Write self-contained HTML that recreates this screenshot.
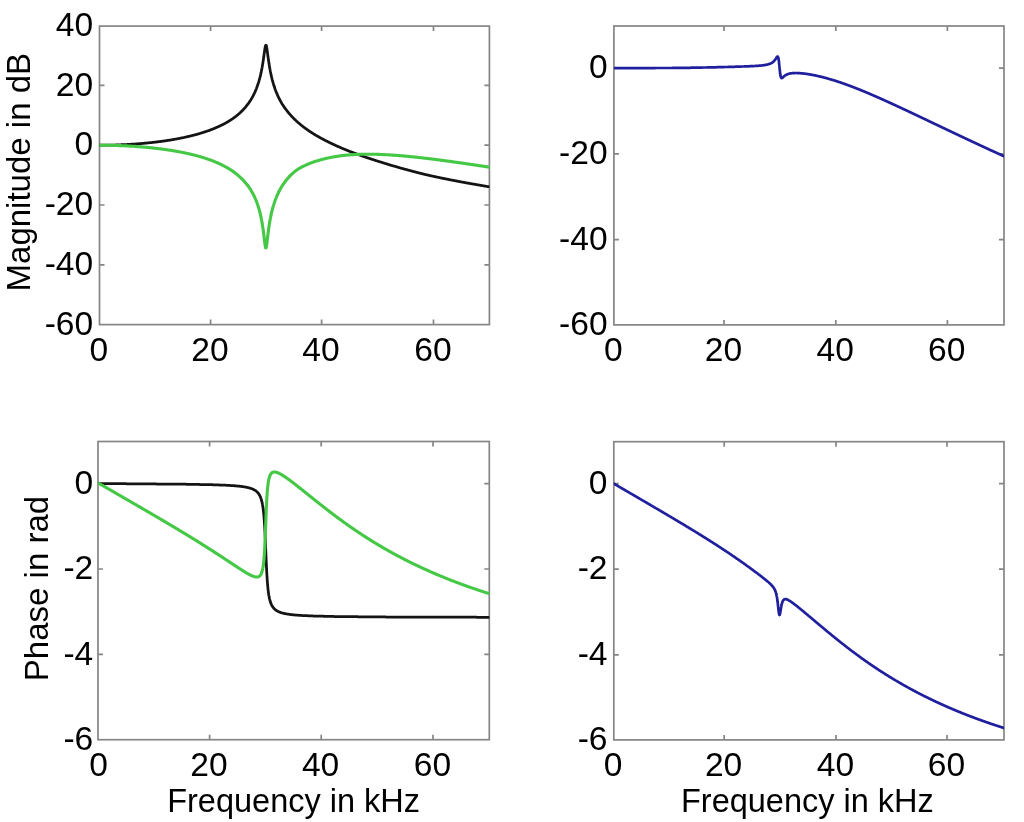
<!DOCTYPE html>
<html><head><meta charset="utf-8"><style>
html,body{margin:0;padding:0;background:#fff;}
svg{display:block;}
text{font-family:"Liberation Sans", Arial, Helvetica, sans-serif;font-size:33.00px;fill:#000;}
.t{font-size:33.6px;}
</style></head><body>
<svg width="1024" height="822" viewBox="0 0 1024 822">
<defs><clipPath id="cTL"><rect x="99.50" y="23.10" width="389.90" height="304.50"/></clipPath><clipPath id="cTR"><rect x="613.90" y="23.00" width="390.10" height="304.90"/></clipPath><clipPath id="cBL"><rect x="98.00" y="438.50" width="391.30" height="304.20"/></clipPath><clipPath id="cBR"><rect x="613.80" y="438.70" width="390.20" height="304.20"/></clipPath></defs>
<rect width="1024" height="822" fill="#fff"/>
<rect x="99.50" y="26.10" width="389.90" height="298.50" fill="none" stroke="#858585" stroke-width="1.70"/>
<path d="M210.60,324.60v-5.00M210.60,26.10v5.00M321.60,324.60v-5.00M321.60,26.10v5.00M433.50,324.60v-5.00M433.50,26.10v5.00M99.50,85.40h5.00M489.40,85.40h-5.00M99.50,145.20h5.00M489.40,145.20h-5.00M99.50,205.00h5.00M489.40,205.00h-5.00M99.50,264.80h5.00M489.40,264.80h-5.00" stroke="#858585" stroke-width="1.70" fill="none"/>
<text class="t" x="98.90" y="360.90" text-anchor="middle">0</text>
<text class="t" x="210.00" y="360.90" text-anchor="middle">20</text>
<text class="t" x="321.00" y="360.90" text-anchor="middle">40</text>
<text class="t" x="432.90" y="360.90" text-anchor="middle">60</text>
<text class="t" x="93.20" y="36.30" text-anchor="end">40</text>
<text class="t" x="93.20" y="95.60" text-anchor="end">20</text>
<text class="t" x="93.20" y="155.40" text-anchor="end">0</text>
<text class="t" x="93.20" y="215.20" text-anchor="end">-20</text>
<text class="t" x="93.20" y="275.00" text-anchor="end">-40</text>
<text class="t" x="93.20" y="334.80" text-anchor="end">-60</text>
<rect x="613.90" y="26.00" width="390.10" height="298.90" fill="none" stroke="#858585" stroke-width="1.70"/>
<path d="M724.00,324.90v-5.00M724.00,26.00v5.00M835.80,324.90v-5.00M835.80,26.00v5.00M947.40,324.90v-5.00M947.40,26.00v5.00M613.90,68.10h5.00M1004.00,68.10h-5.00M613.90,153.90h5.00M1004.00,153.90h-5.00M613.90,239.70h5.00M1004.00,239.70h-5.00" stroke="#858585" stroke-width="1.70" fill="none"/>
<text class="t" x="613.30" y="361.20" text-anchor="middle">0</text>
<text class="t" x="723.40" y="361.20" text-anchor="middle">20</text>
<text class="t" x="835.20" y="361.20" text-anchor="middle">40</text>
<text class="t" x="946.80" y="361.20" text-anchor="middle">60</text>
<text class="t" x="607.60" y="78.30" text-anchor="end">0</text>
<text class="t" x="607.60" y="164.10" text-anchor="end">-20</text>
<text class="t" x="607.60" y="249.90" text-anchor="end">-40</text>
<text class="t" x="607.60" y="335.10" text-anchor="end">-60</text>
<rect x="98.00" y="441.50" width="391.30" height="298.20" fill="none" stroke="#858585" stroke-width="1.70"/>
<path d="M209.60,739.70v-5.00M209.60,441.50v5.00M321.20,739.70v-5.00M321.20,441.50v5.00M433.00,739.70v-5.00M433.00,441.50v5.00M98.00,483.60h5.00M489.30,483.60h-5.00M98.00,569.00h5.00M489.30,569.00h-5.00M98.00,654.40h5.00M489.30,654.40h-5.00" stroke="#858585" stroke-width="1.70" fill="none"/>
<text class="t" x="98.70" y="776.00" text-anchor="middle">0</text>
<text class="t" x="209.00" y="776.00" text-anchor="middle">20</text>
<text class="t" x="320.60" y="776.00" text-anchor="middle">40</text>
<text class="t" x="432.40" y="776.00" text-anchor="middle">60</text>
<text class="t" x="93.30" y="493.80" text-anchor="end">0</text>
<text class="t" x="93.30" y="579.20" text-anchor="end">-2</text>
<text class="t" x="93.30" y="664.60" text-anchor="end">-4</text>
<text class="t" x="93.30" y="749.90" text-anchor="end">-6</text>
<rect x="613.80" y="441.70" width="390.20" height="298.20" fill="none" stroke="#858585" stroke-width="1.70"/>
<path d="M724.20,739.90v-5.00M724.20,441.70v5.00M836.00,739.90v-5.00M836.00,441.70v5.00M947.00,739.90v-5.00M947.00,441.70v5.00M613.80,483.60h5.00M1004.00,483.60h-5.00M613.80,569.20h5.00M1004.00,569.20h-5.00M613.80,654.80h5.00M1004.00,654.80h-5.00" stroke="#858585" stroke-width="1.70" fill="none"/>
<text class="t" x="613.20" y="776.20" text-anchor="middle">0</text>
<text class="t" x="723.60" y="776.20" text-anchor="middle">20</text>
<text class="t" x="835.40" y="776.20" text-anchor="middle">40</text>
<text class="t" x="946.40" y="776.20" text-anchor="middle">60</text>
<text class="t" x="607.50" y="493.80" text-anchor="end">0</text>
<text class="t" x="607.50" y="579.40" text-anchor="end">-2</text>
<text class="t" x="607.50" y="665.00" text-anchor="end">-4</text>
<text class="t" x="607.50" y="750.10" text-anchor="end">-6</text>
<path d="M99.5,145.2 99.9,145.2 100.3,145.2 100.8,145.2 101.2,145.2 101.6,145.2 102.0,145.2 102.4,145.2 102.8,145.2 103.3,145.2 103.7,145.2 104.1,145.2 104.5,145.2 104.9,145.2 105.3,145.2 105.8,145.2 106.2,145.2 106.6,145.2 107.0,145.1 107.4,145.1 107.9,145.1 108.3,145.1 108.7,145.1 109.1,145.1 109.5,145.1 109.9,145.1 110.4,145.1 110.8,145.1 111.2,145.1 111.6,145.1 112.0,145.1 112.5,145.0 112.9,145.0 113.3,145.0 113.7,145.0 114.1,145.0 114.5,145.0 114.8,145.0 115.2,145.0 115.6,145.0 116.0,144.9 116.4,144.9 116.8,144.9 117.2,144.9 117.6,144.9 118.0,144.9 118.4,144.9 118.7,144.9 119.1,144.8 119.5,144.8 119.9,144.8 120.3,144.8 120.7,144.8 121.1,144.8 121.5,144.7 121.9,144.7 122.3,144.7 122.6,144.7 123.0,144.7 123.4,144.7 123.8,144.6 124.2,144.6 124.6,144.6 125.0,144.6 125.4,144.6 125.8,144.5 126.2,144.5 126.5,144.5 126.9,144.5 127.3,144.5 127.7,144.4 128.1,144.4 128.5,144.4 128.9,144.4 129.3,144.4 129.7,144.3 130.1,144.3 130.4,144.3 130.8,144.3 131.2,144.2 131.6,144.2 132.0,144.2 132.4,144.2 132.8,144.1 133.2,144.1 133.6,144.1 134.0,144.1 134.3,144.0 134.7,144.0 135.1,144.0 135.5,144.0 135.9,143.9 136.3,143.9 136.7,143.9 137.1,143.8 137.5,143.8 137.8,143.8 138.2,143.8 138.6,143.7 139.0,143.7 139.4,143.7 139.8,143.6 140.2,143.6 140.6,143.6 141.0,143.5 141.4,143.5 141.7,143.5 142.1,143.4 142.5,143.4 142.9,143.4 143.3,143.3 143.7,143.3 144.1,143.3 144.5,143.2 144.9,143.2 145.3,143.2 145.6,143.1 146.0,143.1 146.4,143.0 146.8,143.0 147.2,143.0 147.6,142.9 148.0,142.9 148.4,142.9 148.8,142.8 149.2,142.8 149.5,142.7 149.9,142.7 150.3,142.7 150.7,142.6 151.1,142.6 151.4,142.5 151.8,142.5 152.1,142.5 152.5,142.4 152.9,142.4 153.2,142.3 153.6,142.3 153.9,142.3 154.3,142.2 154.7,142.2 155.0,142.1 155.4,142.1 155.8,142.0 156.1,142.0 156.5,142.0 156.8,141.9 157.2,141.9 157.6,141.8 157.9,141.8 158.3,141.7 158.7,141.7 159.0,141.6 159.4,141.6 159.7,141.6 160.1,141.5 160.5,141.5 160.8,141.4 161.2,141.4 161.5,141.3 161.9,141.3 162.3,141.2 162.6,141.2 163.0,141.1 163.4,141.1 163.7,141.0 164.1,141.0 164.4,140.9 164.8,140.9 165.2,140.8 165.5,140.8 165.9,140.7 166.3,140.6 166.6,140.6 167.0,140.5 167.3,140.5 167.7,140.4 168.1,140.4 168.4,140.3 168.8,140.3 169.2,140.2 169.5,140.1 169.9,140.1 170.2,140.0 170.6,140.0 171.0,139.9 171.3,139.8 171.7,139.8 172.0,139.7 172.4,139.7 172.8,139.6 173.1,139.5 173.5,139.5 173.9,139.4 174.2,139.4 174.6,139.3 174.9,139.2 175.3,139.2 175.7,139.1 176.0,139.0 176.4,139.0 176.8,138.9 177.1,138.8 177.5,138.8 177.8,138.7 178.2,138.6 178.6,138.6 178.9,138.5 179.3,138.4 179.7,138.3 180.0,138.3 180.3,138.2 180.7,138.1 181.0,138.1 181.4,138.0 181.7,137.9 182.0,137.9 182.4,137.8 182.7,137.7 183.0,137.7 183.4,137.6 183.7,137.5 184.0,137.5 184.4,137.4 184.7,137.3 185.0,137.2 185.4,137.2 185.7,137.1 186.0,137.0 186.4,136.9 186.7,136.9 187.0,136.8 187.4,136.7 187.7,136.6 188.0,136.6 188.4,136.5 188.7,136.4 189.0,136.3 189.4,136.3 189.7,136.2 190.0,136.1 190.4,136.0 190.7,135.9 191.0,135.8 191.4,135.8 191.7,135.7 192.0,135.6 192.4,135.5 192.7,135.4 193.0,135.3 193.4,135.3 193.7,135.2 194.1,135.1 194.4,135.0 194.7,134.9 195.1,134.8 195.4,134.7 195.7,134.6 196.1,134.5 196.4,134.5 196.7,134.4 197.1,134.3 197.4,134.2 197.7,134.1 198.1,134.0 198.4,133.9 198.7,133.8 199.1,133.7 199.4,133.6 199.7,133.5 200.1,133.4 200.4,133.3 200.7,133.2 201.1,133.1 201.4,133.0 201.7,132.9 202.0,132.8 202.3,132.7 202.6,132.6 202.9,132.5 203.2,132.4 203.5,132.3 203.9,132.2 204.2,132.1 204.5,132.0 204.8,131.9 205.1,131.8 205.4,131.7 205.7,131.6 206.0,131.5 206.3,131.4 206.6,131.3 206.9,131.2 207.2,131.1 207.5,131.0 207.8,130.9 208.1,130.8 208.4,130.7 208.8,130.6 209.1,130.5 209.4,130.3 209.7,130.2 210.0,130.1 210.3,130.0 210.6,129.9 210.9,129.8 211.2,129.7 211.5,129.5 211.8,129.4 212.1,129.3 212.4,129.2 212.7,129.1 213.0,128.9 213.4,128.8 213.7,128.7 214.0,128.6 214.3,128.4 214.6,128.3 214.9,128.2 215.2,128.1 215.5,127.9 215.8,127.8 216.1,127.7 216.4,127.5 216.7,127.4 217.0,127.3 217.3,127.2 217.6,127.0 217.8,126.9 218.1,126.8 218.4,126.7 218.7,126.5 218.9,126.4 219.2,126.3 219.5,126.2 219.8,126.0 220.1,125.9 220.3,125.8 220.6,125.6 220.9,125.5 221.2,125.4 221.5,125.2 221.7,125.1 222.0,124.9 222.3,124.8 222.6,124.7 222.8,124.5 223.1,124.4 223.4,124.2 223.7,124.1 224.0,123.9 224.2,123.8 224.5,123.6 224.8,123.5 225.1,123.3 225.4,123.2 225.6,123.0 225.9,122.9 226.2,122.7 226.5,122.6 226.7,122.4 227.0,122.2 227.3,122.1 227.6,121.9 227.9,121.8 228.1,121.6 228.4,121.4 228.6,121.3 228.9,121.1 229.1,121.0 229.4,120.8 229.6,120.7 229.9,120.5 230.1,120.4 230.4,120.2 230.6,120.0 230.9,119.9 231.1,119.7 231.4,119.5 231.6,119.4 231.9,119.2 232.1,119.0 232.4,118.9 232.7,118.7 232.9,118.5 233.2,118.3 233.4,118.2 233.7,118.0 233.9,117.8 234.2,117.6 234.4,117.4 234.7,117.3 234.9,117.1 235.2,116.9 235.4,116.7 235.7,116.5 235.9,116.3 236.2,116.1 236.4,115.9 236.7,115.7 236.9,115.5 237.1,115.4 237.3,115.2 237.6,115.0 237.8,114.8 238.0,114.6 238.2,114.4 238.4,114.2 238.7,114.0 238.9,113.9 239.1,113.7 239.3,113.5 239.6,113.3 239.8,113.1 240.0,112.9 240.2,112.7 240.4,112.4 240.7,112.2 240.9,112.0 241.1,111.8 241.3,111.6 241.6,111.4 241.8,111.2 242.0,110.9 242.2,110.7 242.5,110.5 242.7,110.3 242.9,110.0 243.1,109.8 243.3,109.6 243.5,109.4 243.7,109.2 243.9,109.0 244.1,108.8 244.3,108.5 244.5,108.3 244.7,108.1 244.9,107.9 245.1,107.7 245.3,107.4 245.5,107.2 245.7,107.0 245.9,106.7 246.0,106.5 246.2,106.3 246.4,106.0 246.6,105.8 246.8,105.5 247.0,105.3 247.2,105.0 247.4,104.8 247.6,104.5 247.8,104.3 248.0,104.0 248.2,103.8 248.4,103.5 248.6,103.2 248.7,103.0 248.9,102.7 249.1,102.5 249.2,102.3 249.4,102.0 249.6,101.8 249.8,101.5 249.9,101.3 250.1,101.0 250.3,100.7 250.4,100.5 250.6,100.2 250.8,100.0 250.9,99.7 251.1,99.4 251.3,99.1 251.4,98.9 251.6,98.6 251.8,98.3 251.9,98.0 252.1,97.7 252.3,97.4 252.4,97.1 252.6,96.8 252.8,96.5 252.9,96.2 253.1,95.9 253.2,95.7 253.3,95.4 253.5,95.1 253.6,94.8 253.8,94.6 253.9,94.3 254.0,94.0 254.2,93.7 254.3,93.4 254.5,93.1 254.6,92.8 254.7,92.5 254.9,92.2 255.0,91.9 255.2,91.6 255.3,91.3 255.4,90.9 255.6,90.6 255.7,90.3 255.8,90.0 256.0,89.6 256.1,89.3 256.3,88.9 256.4,88.6 256.5,88.2 256.7,87.9 256.8,87.6 256.9,87.3 257.0,87.0 257.1,86.7 257.2,86.4 257.3,86.1 257.4,85.8 257.5,85.5 257.7,85.1 257.8,84.8 257.9,84.5 258.0,84.1 258.1,83.8 258.2,83.5 258.3,83.1 258.4,82.7 258.6,82.4 258.7,82.0 258.8,81.7 258.9,81.3 259.0,80.9 259.1,80.5 259.2,80.1 259.3,79.7 259.4,79.3 259.6,78.9 259.7,78.5 259.7,78.2 259.8,77.9 259.9,77.5 260.0,77.2 260.1,76.9 260.2,76.5 260.3,76.2 260.3,75.9 260.4,75.5 260.5,75.2 260.6,74.8 260.7,74.4 260.8,74.1 260.8,73.7 260.9,73.3 261.0,72.9 261.1,72.5 261.2,72.2 261.3,71.8 261.3,71.4 261.4,70.9 261.5,70.5 261.6,70.1 261.7,69.7 261.8,69.3 261.8,68.8 261.9,68.4 262.0,67.9 262.1,67.5 262.2,67.0 262.3,66.5 262.3,66.1 262.4,65.6 262.5,65.1 262.6,64.6 262.7,64.1 262.8,63.6 262.8,63.2 262.9,62.9 262.9,62.5 263.0,62.2 263.0,61.8 263.1,61.4 263.1,61.1 263.2,60.7 263.3,60.3 263.3,60.0 263.4,59.6 263.4,59.2 263.5,58.8 263.5,58.4 263.6,58.0 263.6,57.6 263.7,57.3 263.8,56.9 263.8,56.5 263.9,56.1 263.9,55.7 264.0,55.3 264.0,54.9 264.1,54.4 264.1,54.0 264.2,53.6 264.3,53.2 264.3,52.8 264.4,52.4 264.4,52.0 264.5,51.6 264.5,51.2 264.6,50.8 264.7,50.4 264.7,50.1 264.8,49.7 264.8,49.3 264.9,49.0 264.9,48.6 265.0,48.1 265.1,47.6 265.2,47.2 265.3,46.8 265.3,46.4 265.4,46.0 265.5,45.7 265.7,45.3 265.9,45.1 266.1,45.3 266.3,45.6 266.4,46.0 266.5,46.3 266.5,46.7 266.6,47.1 266.7,47.5 266.8,48.0 266.9,48.5 266.9,48.9 267.0,49.2 267.0,49.6 267.1,50.0 267.2,50.4 267.2,50.8 267.3,51.2 267.3,51.6 267.4,52.0 267.4,52.4 267.5,52.8 267.5,53.2 267.6,53.6 267.7,54.0 267.7,54.5 267.8,54.9 267.8,55.3 267.9,55.7 267.9,56.1 268.0,56.5 268.0,56.9 268.1,57.3 268.2,57.7 268.2,58.1 268.3,58.5 268.3,58.9 268.4,59.3 268.4,59.7 268.5,60.1 268.5,60.5 268.6,60.9 268.7,61.3 268.7,61.6 268.8,62.0 268.8,62.4 268.9,62.7 268.9,63.1 269.0,63.5 269.1,63.8 269.1,64.2 269.2,64.5 269.2,64.9 269.3,65.4 269.4,65.9 269.5,66.4 269.6,66.9 269.6,67.4 269.7,67.9 269.8,68.3 269.9,68.8 270.0,69.3 270.1,69.7 270.1,70.2 270.2,70.6 270.3,71.0 270.4,71.5 270.5,71.9 270.6,72.3 270.6,72.7 270.7,73.1 270.8,73.5 270.9,73.9 271.0,74.3 271.1,74.7 271.1,75.1 271.2,75.5 271.3,75.8 271.4,76.2 271.5,76.6 271.6,76.9 271.6,77.3 271.7,77.6 271.8,78.0 271.9,78.3 272.0,78.7 272.1,79.0 272.1,79.3 272.2,79.7 272.3,80.0 272.4,80.3 272.5,80.6 272.6,81.0 272.7,81.4 272.8,81.8 272.9,82.2 273.0,82.6 273.1,83.0 273.3,83.4 273.4,83.8 273.5,84.2 273.6,84.5 273.7,84.9 273.8,85.3 273.9,85.6 274.0,86.0 274.1,86.3 274.3,86.6 274.4,87.0 274.5,87.3 274.6,87.6 274.7,88.0 274.8,88.3 274.9,88.6 275.0,88.9 275.1,89.2 275.3,89.5 275.4,89.8 275.5,90.2 275.6,90.4 275.7,90.7 275.8,91.0 276.0,91.4 276.1,91.7 276.2,92.1 276.4,92.4 276.5,92.8 276.7,93.1 276.8,93.5 276.9,93.8 277.1,94.1 277.2,94.4 277.4,94.8 277.5,95.1 277.6,95.4 277.8,95.7 277.9,96.0 278.0,96.3 278.2,96.6 278.3,96.9 278.5,97.2 278.6,97.5 278.7,97.8 278.9,98.0 279.0,98.3 279.2,98.6 279.3,98.9 279.4,99.1 279.6,99.4 279.7,99.7 279.9,99.9 280.0,100.2 280.2,100.5 280.3,100.8 280.5,101.1 280.7,101.4 280.8,101.7 281.0,102.0 281.2,102.3 281.3,102.6 281.5,102.9 281.7,103.1 281.8,103.4 282.0,103.7 282.2,104.0 282.3,104.2 282.5,104.5 282.7,104.8 282.8,105.0 283.0,105.3 283.2,105.6 283.3,105.8 283.5,106.1 283.7,106.3 283.8,106.6 284.0,106.8 284.2,107.1 284.3,107.3 284.5,107.5 284.7,107.8 284.8,108.0 285.0,108.2 285.2,108.5 285.4,108.8 285.6,109.0 285.8,109.3 286.0,109.6 286.2,109.8 286.4,110.1 286.6,110.3 286.8,110.6 287.0,110.8 287.2,111.1 287.3,111.3 287.5,111.6 287.7,111.8 287.9,112.1 288.1,112.3 288.3,112.5 288.5,112.8 288.7,113.0 288.9,113.2 289.1,113.4 289.3,113.7 289.5,113.9 289.7,114.1 289.9,114.3 290.1,114.6 290.3,114.8 290.5,115.0 290.7,115.2 290.9,115.4 291.1,115.6 291.2,115.8 291.4,116.1 291.6,116.3 291.8,116.5 292.0,116.7 292.2,116.9 292.5,117.1 292.7,117.4 292.9,117.6 293.1,117.8 293.4,118.1 293.6,118.3 293.8,118.5 294.0,118.7 294.3,118.9 294.5,119.2 294.7,119.4 294.9,119.6 295.1,119.8 295.4,120.0 295.6,120.2 295.8,120.4 296.0,120.6 296.3,120.9 296.5,121.1 296.7,121.3 296.9,121.5 297.2,121.7 297.4,121.9 297.6,122.1 297.8,122.3 298.0,122.5 298.3,122.7 298.5,122.9 298.7,123.0 298.9,123.2 299.2,123.4 299.4,123.6 299.6,123.8 299.8,124.0 300.0,124.2 300.3,124.4 300.5,124.5 300.7,124.7 300.9,124.9 301.2,125.1 301.4,125.3 301.6,125.5 301.8,125.6 302.1,125.8 302.3,126.0 302.6,126.2 302.8,126.4 303.1,126.6 303.3,126.8 303.6,127.0 303.8,127.2 304.1,127.4 304.3,127.6 304.6,127.8 304.8,127.9 305.1,128.1 305.3,128.3 305.6,128.5 305.8,128.7 306.1,128.9 306.3,129.0 306.6,129.2 306.8,129.4 307.1,129.6 307.3,129.7 307.6,129.9 307.8,130.1 308.1,130.3 308.3,130.4 308.6,130.6 308.8,130.8 309.1,131.0 309.3,131.1 309.6,131.3 309.9,131.5 310.1,131.6 310.4,131.8 310.6,132.0 310.9,132.1 311.1,132.3 311.4,132.4 311.6,132.6 311.9,132.8 312.1,132.9 312.4,133.1 312.6,133.2 312.9,133.4 313.1,133.6 313.4,133.7 313.6,133.9 313.9,134.0 314.1,134.2 314.4,134.3 314.6,134.5 314.9,134.6 315.1,134.8 315.4,134.9 315.6,135.1 315.9,135.2 316.1,135.4 316.4,135.6 316.7,135.7 317.0,135.9 317.3,136.1 317.5,136.2 317.8,136.4 318.1,136.5 318.4,136.7 318.7,136.9 318.9,137.0 319.2,137.2 319.5,137.3 319.8,137.5 320.0,137.6 320.3,137.8 320.6,137.9 320.9,138.1 321.2,138.2 321.4,138.4 321.7,138.5 322.0,138.7 322.3,138.8 322.6,139.0 322.8,139.1 323.1,139.3 323.4,139.4 323.7,139.6 323.9,139.7 324.2,139.9 324.5,140.0 324.8,140.2 325.1,140.3 325.3,140.5 325.6,140.6 325.9,140.7 326.2,140.9 326.4,141.0 326.7,141.2 327.0,141.3 327.3,141.4 327.6,141.6 327.8,141.7 328.1,141.9 328.4,142.0 328.7,142.1 329.0,142.3 329.2,142.4 329.5,142.5 329.8,142.7 330.1,142.8 330.3,143.0 330.6,143.1 330.9,143.2 331.2,143.4 331.5,143.5 331.7,143.6 332.0,143.8 332.3,143.9 332.6,144.0 332.9,144.1 333.1,144.3 333.4,144.4 333.7,144.5 334.0,144.7 334.2,144.8 334.5,144.9 334.8,145.0 335.1,145.2 335.4,145.3 335.6,145.4 335.9,145.6 336.2,145.7 336.5,145.8 336.8,145.9 337.0,146.1 337.3,146.2 337.6,146.3 337.9,146.4 338.1,146.6 338.4,146.7 338.7,146.8 339.0,146.9 339.3,147.0 339.6,147.2 339.9,147.3 340.2,147.4 340.5,147.6 340.8,147.7 341.1,147.8 341.4,148.0 341.7,148.1 342.0,148.2 342.3,148.4 342.6,148.5 342.9,148.6 343.2,148.7 343.5,148.9 343.9,149.0 344.2,149.1 344.5,149.3 344.8,149.4 345.1,149.5 345.4,149.6 345.7,149.8 346.0,149.9 346.3,150.0 346.6,150.1 346.9,150.2 347.2,150.4 347.5,150.5 347.8,150.6 348.1,150.7 348.5,150.9 348.8,151.0 349.1,151.1 349.4,151.2 349.7,151.3 350.0,151.5 350.3,151.6 350.6,151.7 350.9,151.8 351.2,151.9 351.5,152.1 351.8,152.2 352.1,152.3 352.4,152.4 352.7,152.5 353.0,152.6 353.4,152.8 353.7,152.9 354.0,153.0 354.3,153.1 354.6,153.2 354.9,153.3 355.2,153.4 355.5,153.6 355.8,153.7 356.1,153.8 356.4,153.9 356.7,154.0 357.0,154.1 357.3,154.2 357.6,154.3 357.9,154.5 358.3,154.6 358.6,154.7 358.9,154.8 359.2,154.9 359.5,155.0 359.8,155.1 360.1,155.2 360.4,155.3 360.7,155.4 361.0,155.6 361.3,155.7 361.6,155.8 361.9,155.9 362.2,156.0 362.5,156.1 362.8,156.2 363.2,156.3 363.5,156.4 363.8,156.5 364.1,156.6 364.4,156.7 364.7,156.8 365.0,156.9 365.3,157.0 365.6,157.2 365.9,157.3 366.2,157.4 366.5,157.5 366.8,157.6 367.1,157.7 367.4,157.8 367.8,157.9 368.1,158.0 368.4,158.1 368.7,158.2 369.0,158.3 369.3,158.4 369.6,158.5 369.9,158.6 370.2,158.7 370.5,158.8 370.8,158.9 371.1,159.0 371.4,159.1 371.7,159.2 372.0,159.3 372.3,159.4 372.7,159.5 373.0,159.6 373.3,159.7 373.6,159.8 373.9,159.9 374.2,160.0 374.5,160.1 374.8,160.2 375.1,160.3 375.4,160.4 375.7,160.5 376.0,160.6 376.3,160.7 376.6,160.8 376.9,160.9 377.2,161.0 377.6,161.1 377.9,161.2 378.2,161.3 378.5,161.4 378.8,161.5 379.1,161.6 379.4,161.7 379.7,161.8 380.0,161.9 380.3,161.9 380.6,162.0 380.9,162.1 381.2,162.2 381.5,162.3 381.8,162.4 382.1,162.5 382.5,162.6 382.8,162.7 383.1,162.8 383.4,162.9 383.7,163.0 384.0,163.1 384.3,163.2 384.6,163.3 384.9,163.4 385.2,163.5 385.5,163.6 385.8,163.7 386.1,163.7 386.4,163.8 386.8,163.9 387.1,164.0 387.4,164.1 387.8,164.3 388.1,164.4 388.4,164.5 388.8,164.6 389.1,164.7 389.4,164.8 389.8,164.9 390.1,165.0 390.4,165.1 390.8,165.2 391.1,165.3 391.5,165.4 391.8,165.5 392.1,165.6 392.5,165.7 392.8,165.8 393.1,165.9 393.5,166.0 393.8,166.0 394.1,166.1 394.5,166.2 394.8,166.3 395.1,166.4 395.5,166.5 395.8,166.6 396.1,166.7 396.5,166.8 396.8,166.9 397.1,167.0 397.5,167.1 397.8,167.2 398.1,167.3 398.5,167.4 398.8,167.5 399.1,167.6 399.5,167.7 399.8,167.8 400.1,167.9 400.5,168.0 400.8,168.1 401.1,168.2 401.5,168.3 401.8,168.3 402.1,168.4 402.5,168.5 402.8,168.6 403.1,168.7 403.5,168.8 403.8,168.9 404.2,169.0 404.5,169.1 404.8,169.2 405.2,169.3 405.5,169.4 405.8,169.4 406.2,169.5 406.5,169.6 406.8,169.7 407.2,169.8 407.5,169.9 407.8,170.0 408.2,170.1 408.5,170.2 408.8,170.3 409.2,170.3 409.5,170.4 409.8,170.5 410.2,170.6 410.5,170.7 410.8,170.8 411.2,170.9 411.5,171.0 411.8,171.1 412.2,171.1 412.5,171.2 412.8,171.3 413.2,171.4 413.5,171.5 413.8,171.6 414.2,171.7 414.5,171.8 414.8,171.9 415.2,171.9 415.5,172.0 415.8,172.1 416.2,172.2 416.5,172.3 416.9,172.4 417.2,172.5 417.5,172.5 417.9,172.6 418.2,172.7 418.5,172.8 418.9,172.9 419.2,173.0 419.5,173.1 419.9,173.1 420.2,173.2 420.5,173.3 420.9,173.4 421.2,173.5 421.5,173.6 421.9,173.6 422.2,173.7 422.5,173.8 422.9,173.9 423.2,174.0 423.5,174.1 423.9,174.1 424.2,174.2 424.5,174.3 424.9,174.4 425.2,174.5 425.5,174.5 425.9,174.6 426.2,174.7 426.5,174.8 426.9,174.9 427.2,174.9 427.5,175.0 427.9,175.1 428.2,175.2 428.5,175.2 428.9,175.3 429.2,175.4 429.6,175.5 429.9,175.6 430.2,175.6 430.6,175.7 430.9,175.8 431.2,175.9 431.6,175.9 431.9,176.0 432.2,176.1 432.6,176.2 432.9,176.2 433.2,176.3 433.6,176.4 433.9,176.4 434.2,176.5 434.6,176.6 434.9,176.7 435.2,176.7 435.6,176.8 435.9,176.9 436.2,176.9 436.6,177.0 436.9,177.1 437.2,177.2 437.6,177.2 437.9,177.3 438.2,177.4 438.6,177.4 438.9,177.5 439.2,177.6 439.6,177.6 439.9,177.7 440.2,177.8 440.6,177.9 440.9,177.9 441.2,178.0 441.6,178.1 441.9,178.1 442.2,178.2 442.6,178.3 442.9,178.3 443.3,178.4 443.6,178.5 443.9,178.5 444.3,178.6 444.6,178.7 444.9,178.7 445.3,178.8 445.6,178.9 445.9,178.9 446.3,179.0 446.6,179.1 446.9,179.1 447.3,179.2 447.6,179.3 447.9,179.3 448.3,179.4 448.6,179.5 448.9,179.5 449.3,179.6 449.7,179.7 450.0,179.8 450.4,179.8 450.7,179.9 451.1,180.0 451.5,180.0 451.8,180.1 452.2,180.2 452.6,180.2 452.9,180.3 453.3,180.4 453.6,180.5 454.0,180.5 454.4,180.6 454.7,180.7 455.1,180.7 455.5,180.8 455.8,180.9 456.2,180.9 456.5,181.0 456.9,181.1 457.3,181.1 457.6,181.2 458.0,181.3 458.3,181.4 458.7,181.4 459.1,181.5 459.4,181.6 459.8,181.6 460.2,181.7 460.5,181.8 460.9,181.8 461.2,181.9 461.6,182.0 462.0,182.0 462.3,182.1 462.7,182.2 463.1,182.2 463.4,182.3 463.8,182.4 464.1,182.4 464.5,182.5 464.9,182.6 465.2,182.6 465.6,182.7 466.0,182.8 466.3,182.8 466.7,182.9 467.0,183.0 467.4,183.0 467.8,183.1 468.1,183.1 468.5,183.2 468.8,183.3 469.2,183.3 469.6,183.4 469.9,183.5 470.3,183.5 470.7,183.6 471.0,183.7 471.4,183.7 471.7,183.8 472.1,183.9 472.5,183.9 472.8,184.0 473.2,184.0 473.6,184.1 473.9,184.2 474.3,184.2 474.6,184.3 475.0,184.4 475.4,184.4 475.7,184.5 476.1,184.6 476.4,184.6 476.8,184.7 477.2,184.7 477.5,184.8 477.9,184.9 478.3,184.9 478.6,185.0 479.0,185.1 479.3,185.1 479.7,185.2 480.1,185.2 480.4,185.3 480.8,185.4 481.2,185.4 481.5,185.5 481.9,185.5 482.2,185.6 482.6,185.7 483.0,185.7 483.3,185.8 483.7,185.9 484.1,185.9 484.4,186.0 484.8,186.0 485.1,186.1 485.5,186.2 485.9,186.2 486.2,186.3 486.6,186.3 486.9,186.4 487.3,186.5 487.7,186.5 488.0,186.6 488.4,186.6 488.8,186.7 489.1,186.8 489.4,186.8" fill="none" stroke="#141414" stroke-width="2.75" stroke-linejoin="round" stroke-linecap="round" clip-path="url(#cTL)"/>
<path d="M99.5,145.2 99.9,145.2 100.3,145.2 100.8,145.2 101.2,145.2 101.6,145.2 102.0,145.2 102.4,145.2 102.8,145.2 103.3,145.2 103.7,145.2 104.1,145.2 104.5,145.2 104.9,145.2 105.3,145.2 105.8,145.2 106.2,145.2 106.6,145.2 107.0,145.3 107.4,145.3 107.9,145.3 108.3,145.3 108.7,145.3 109.1,145.3 109.5,145.3 109.9,145.3 110.4,145.3 110.8,145.3 111.2,145.3 111.6,145.3 112.0,145.3 112.5,145.4 112.9,145.4 113.3,145.4 113.7,145.4 114.1,145.4 114.5,145.4 114.8,145.4 115.2,145.4 115.6,145.4 116.0,145.5 116.4,145.5 116.8,145.5 117.2,145.5 117.6,145.5 118.0,145.5 118.4,145.5 118.7,145.6 119.1,145.6 119.5,145.6 119.9,145.6 120.3,145.6 120.7,145.6 121.1,145.6 121.5,145.7 121.9,145.7 122.3,145.7 122.6,145.7 123.0,145.7 123.4,145.7 123.8,145.8 124.2,145.8 124.6,145.8 125.0,145.8 125.4,145.8 125.8,145.9 126.2,145.9 126.5,145.9 126.9,145.9 127.3,145.9 127.7,146.0 128.1,146.0 128.5,146.0 128.9,146.0 129.3,146.0 129.7,146.1 130.1,146.1 130.4,146.1 130.8,146.1 131.2,146.2 131.6,146.2 132.0,146.2 132.4,146.2 132.8,146.3 133.2,146.3 133.6,146.3 134.0,146.3 134.3,146.4 134.7,146.4 135.1,146.4 135.5,146.4 135.9,146.5 136.3,146.5 136.7,146.5 137.1,146.6 137.5,146.6 137.8,146.6 138.2,146.6 138.6,146.7 139.0,146.7 139.4,146.7 139.8,146.8 140.2,146.8 140.6,146.8 141.0,146.9 141.4,146.9 141.7,146.9 142.1,147.0 142.5,147.0 142.9,147.0 143.3,147.1 143.7,147.1 144.1,147.1 144.5,147.2 144.9,147.2 145.3,147.2 145.6,147.3 146.0,147.3 146.4,147.3 146.8,147.4 147.2,147.4 147.6,147.4 148.0,147.5 148.4,147.5 148.8,147.6 149.2,147.6 149.5,147.6 149.9,147.7 150.3,147.7 150.7,147.8 151.1,147.8 151.5,147.8 151.8,147.9 152.2,147.9 152.6,147.9 152.9,148.0 153.3,148.0 153.6,148.1 154.0,148.1 154.4,148.1 154.7,148.2 155.1,148.2 155.5,148.3 155.8,148.3 156.2,148.4 156.5,148.4 156.9,148.4 157.3,148.5 157.6,148.5 158.0,148.6 158.3,148.6 158.7,148.7 159.1,148.7 159.4,148.8 159.8,148.8 160.2,148.8 160.5,148.9 160.9,148.9 161.2,149.0 161.6,149.0 162.0,149.1 162.3,149.1 162.7,149.2 163.1,149.2 163.4,149.3 163.8,149.3 164.1,149.4 164.5,149.4 164.9,149.5 165.2,149.5 165.6,149.6 166.0,149.6 166.3,149.7 166.7,149.7 167.0,149.8 167.4,149.8 167.8,149.9 168.1,149.9 168.5,150.0 168.8,150.1 169.2,150.1 169.6,150.2 169.9,150.2 170.3,150.3 170.7,150.3 171.0,150.4 171.4,150.4 171.7,150.5 172.1,150.6 172.5,150.6 172.8,150.7 173.2,150.7 173.6,150.8 173.9,150.9 174.3,150.9 174.6,151.0 175.0,151.0 175.4,151.1 175.7,151.2 176.1,151.2 176.4,151.3 176.8,151.4 177.2,151.4 177.5,151.5 177.9,151.6 178.3,151.6 178.6,151.7 179.0,151.8 179.3,151.8 179.7,151.9 180.1,152.0 180.4,152.0 180.8,152.1 181.2,152.2 181.5,152.2 181.9,152.3 182.2,152.4 182.5,152.4 182.9,152.5 183.2,152.6 183.6,152.6 183.9,152.7 184.2,152.8 184.6,152.9 184.9,152.9 185.2,153.0 185.6,153.1 185.9,153.1 186.2,153.2 186.6,153.3 186.9,153.4 187.2,153.4 187.6,153.5 187.9,153.6 188.2,153.6 188.6,153.7 188.9,153.8 189.2,153.9 189.6,154.0 189.9,154.0 190.2,154.1 190.6,154.2 190.9,154.3 191.2,154.3 191.6,154.4 191.9,154.5 192.2,154.6 192.6,154.7 192.9,154.7 193.2,154.8 193.6,154.9 193.9,155.0 194.2,155.1 194.6,155.2 194.9,155.3 195.2,155.3 195.6,155.4 195.9,155.5 196.3,155.6 196.6,155.7 196.9,155.8 197.3,155.9 197.6,156.0 197.9,156.0 198.3,156.1 198.6,156.2 198.9,156.3 199.3,156.4 199.6,156.5 199.9,156.6 200.3,156.7 200.6,156.8 200.9,156.9 201.3,157.0 201.6,157.1 201.9,157.2 202.3,157.3 202.6,157.4 202.9,157.5 203.2,157.6 203.5,157.7 203.9,157.8 204.2,157.9 204.5,158.0 204.8,158.1 205.1,158.2 205.4,158.3 205.7,158.4 206.0,158.5 206.3,158.6 206.6,158.7 206.9,158.8 207.2,158.9 207.5,159.0 207.8,159.1 208.1,159.2 208.4,159.3 208.8,159.4 209.1,159.5 209.4,159.6 209.7,159.7 210.0,159.8 210.3,160.0 210.6,160.1 210.9,160.2 211.2,160.3 211.5,160.4 211.8,160.5 212.1,160.6 212.4,160.8 212.7,160.9 213.0,161.0 213.4,161.1 213.7,161.2 214.0,161.4 214.3,161.5 214.6,161.6 214.9,161.7 215.2,161.9 215.5,162.0 215.8,162.1 216.1,162.2 216.4,162.4 216.7,162.5 217.0,162.6 217.3,162.8 217.6,162.9 217.9,163.0 218.2,163.1 218.4,163.3 218.7,163.4 219.0,163.5 219.3,163.6 219.6,163.8 219.8,163.9 220.1,164.0 220.4,164.2 220.7,164.3 221.0,164.4 221.2,164.6 221.5,164.7 221.8,164.8 222.1,165.0 222.3,165.1 222.6,165.2 222.9,165.4 223.2,165.5 223.5,165.7 223.7,165.8 224.0,166.0 224.3,166.1 224.6,166.3 224.9,166.4 225.1,166.6 225.4,166.7 225.7,166.9 226.0,167.0 226.2,167.2 226.5,167.3 226.8,167.5 227.1,167.7 227.4,167.8 227.6,168.0 227.9,168.1 228.2,168.3 228.4,168.5 228.7,168.6 228.9,168.8 229.2,168.9 229.4,169.1 229.7,169.2 229.9,169.4 230.2,169.5 230.5,169.7 230.7,169.9 231.0,170.0 231.2,170.2 231.5,170.4 231.7,170.5 232.0,170.7 232.2,170.9 232.5,171.0 232.7,171.2 233.0,171.4 233.2,171.6 233.5,171.8 233.7,171.9 234.0,172.1 234.2,172.3 234.5,172.5 234.7,172.7 235.0,172.9 235.2,173.0 235.5,173.2 235.7,173.4 236.0,173.6 236.2,173.8 236.4,174.0 236.7,174.2 236.9,174.4 237.1,174.5 237.3,174.7 237.6,174.9 237.8,175.1 238.0,175.3 238.2,175.5 238.4,175.7 238.7,175.9 238.9,176.1 239.1,176.3 239.3,176.5 239.6,176.7 239.8,176.9 240.0,177.1 240.2,177.3 240.4,177.5 240.7,177.7 240.9,177.9 241.1,178.1 241.3,178.3 241.6,178.6 241.8,178.8 242.0,179.0 242.2,179.2 242.5,179.5 242.7,179.7 242.9,179.9 243.1,180.1 243.3,180.3 243.5,180.6 243.7,180.8 243.9,181.0 244.1,181.2 244.3,181.4 244.5,181.6 244.7,181.9 244.8,182.1 245.0,182.3 245.2,182.5 245.4,182.8 245.6,183.0 245.8,183.2 246.0,183.5 246.2,183.7 246.4,183.9 246.6,184.2 246.8,184.4 247.0,184.7 247.2,184.9 247.4,185.2 247.6,185.4 247.8,185.7 248.0,185.9 248.2,186.2 248.4,186.5 248.6,186.7 248.7,187.0 248.9,187.2 249.1,187.5 249.2,187.7 249.4,188.0 249.6,188.2 249.8,188.5 249.9,188.7 250.1,189.0 250.3,189.2 250.4,189.5 250.6,189.7 250.8,190.0 250.9,190.3 251.1,190.5 251.3,190.8 251.4,191.1 251.6,191.4 251.8,191.6 251.9,191.9 252.1,192.2 252.3,192.5 252.4,192.8 252.6,193.1 252.8,193.4 252.9,193.7 253.1,194.0 253.2,194.3 253.4,194.6 253.5,194.8 253.6,195.1 253.8,195.4 253.9,195.7 254.1,195.9 254.2,196.2 254.3,196.5 254.5,196.8 254.6,197.1 254.8,197.4 254.9,197.7 255.0,198.0 255.2,198.3 255.3,198.7 255.5,199.0 255.6,199.3 255.7,199.6 255.9,200.0 256.0,200.3 256.2,200.6 256.3,201.0 256.4,201.4 256.6,201.7 256.7,202.0 256.8,202.3 256.9,202.6 257.0,202.9 257.1,203.2 257.2,203.5 257.4,203.8 257.5,204.2 257.6,204.5 257.7,204.8 257.8,205.1 257.9,205.5 258.0,205.8 258.1,206.2 258.2,206.5 258.4,206.9 258.5,207.2 258.6,207.6 258.7,208.0 258.8,208.3 258.9,208.7 259.0,209.1 259.1,209.5 259.2,209.9 259.4,210.3 259.5,210.7 259.6,211.1 259.7,211.5 259.7,211.8 259.8,212.1 259.9,212.4 260.0,212.8 260.1,213.1 260.2,213.5 260.3,213.8 260.3,214.2 260.4,214.5 260.5,214.9 260.6,215.3 260.7,215.6 260.8,216.0 260.8,216.4 260.9,216.8 261.0,217.2 261.1,217.6 261.2,218.0 261.3,218.4 261.3,218.8 261.4,219.2 261.5,219.7 261.6,220.1 261.7,220.6 261.8,221.0 261.8,221.5 261.9,221.9 262.0,222.4 262.1,222.9 262.2,223.4 262.3,223.9 262.3,224.4 262.4,224.9 262.5,225.2 262.5,225.6 262.6,226.0 262.6,226.3 262.7,226.7 262.8,227.0 262.8,227.4 262.9,227.8 262.9,228.2 263.0,228.6 263.0,228.9 263.1,229.3 263.1,229.7 263.2,230.1 263.3,230.5 263.3,231.0 263.4,231.4 263.4,231.8 263.5,232.2 263.5,232.6 263.6,233.1 263.6,233.5 263.7,233.9 263.8,234.4 263.8,234.8 263.9,235.3 263.9,235.7 264.0,236.2 264.0,236.6 264.1,237.1 264.1,237.6 264.2,238.0 264.3,238.5 264.3,239.0 264.4,239.4 264.4,239.9 264.5,240.4 264.5,240.8 264.6,241.3 264.7,241.8 264.7,242.2 264.8,242.7 264.8,243.1 264.9,243.5 264.9,243.9 265.0,244.4 265.0,244.8 265.1,245.1 265.2,245.5 265.2,245.9 265.3,246.3 265.4,246.8 265.5,247.2 265.6,247.6 265.7,247.9 266.1,247.8 266.2,247.5 266.3,247.1 266.3,246.8 266.4,246.3 266.5,245.8 266.6,245.5 266.6,245.1 266.7,244.7 266.7,244.3 266.8,243.9 266.9,243.5 266.9,243.0 267.0,242.6 267.0,242.1 267.1,241.7 267.1,241.2 267.2,240.7 267.2,240.3 267.3,239.8 267.4,239.3 267.4,238.8 267.5,238.4 267.5,237.9 267.6,237.4 267.6,236.9 267.7,236.5 267.7,236.0 267.8,235.5 267.9,235.1 267.9,234.6 268.0,234.2 268.0,233.7 268.1,233.3 268.1,232.8 268.2,232.4 268.2,231.9 268.3,231.5 268.4,231.1 268.4,230.6 268.5,230.2 268.5,229.8 268.6,229.4 268.6,229.0 268.7,228.6 268.7,228.2 268.8,227.8 268.9,227.4 268.9,227.0 269.0,226.6 269.0,226.3 269.1,225.9 269.1,225.5 269.2,225.2 269.2,224.8 269.3,224.4 269.4,224.1 269.4,223.7 269.5,223.4 269.6,222.9 269.6,222.4 269.7,221.9 269.8,221.4 269.9,220.9 270.0,220.4 270.1,220.0 270.1,219.5 270.2,219.1 270.3,218.6 270.4,218.2 270.5,217.8 270.6,217.3 270.6,216.9 270.7,216.5 270.8,216.1 270.9,215.7 271.0,215.3 271.1,214.9 271.1,214.5 271.2,214.1 271.3,213.8 271.4,213.4 271.5,213.0 271.6,212.7 271.6,212.3 271.7,211.9 271.8,211.6 271.9,211.3 272.0,210.9 272.1,210.6 272.1,210.2 272.2,209.9 272.3,209.6 272.4,209.3 272.5,209.0 272.6,208.5 272.7,208.1 272.8,207.7 272.9,207.3 273.0,206.9 273.1,206.5 273.3,206.2 273.4,205.8 273.5,205.4 273.6,205.0 273.7,204.7 273.8,204.3 273.9,204.0 274.0,203.6 274.1,203.3 274.3,202.9 274.4,202.6 274.5,202.3 274.6,202.0 274.7,201.6 274.8,201.3 274.9,201.0 275.0,200.7 275.1,200.4 275.3,200.1 275.4,199.8 275.5,199.5 275.6,199.2 275.7,198.9 275.8,198.5 276.0,198.2 276.1,197.8 276.3,197.5 276.4,197.1 276.5,196.8 276.7,196.5 276.8,196.1 277.0,195.8 277.1,195.5 277.2,195.2 277.4,194.9 277.5,194.6 277.7,194.3 277.8,194.0 277.9,193.7 278.1,193.4 278.2,193.1 278.4,192.8 278.5,192.5 278.6,192.2 278.8,191.9 278.9,191.7 279.0,191.4 279.2,191.1 279.3,190.9 279.5,190.6 279.6,190.3 279.8,190.0 279.9,189.7 280.1,189.4 280.3,189.1 280.4,188.8 280.6,188.5 280.8,188.2 280.9,187.9 281.1,187.7 281.3,187.4 281.4,187.1 281.6,186.8 281.8,186.6 281.9,186.3 282.1,186.0 282.3,185.8 282.4,185.5 282.6,185.2 282.8,185.0 282.9,184.7 283.1,184.5 283.3,184.2 283.4,184.0 283.6,183.8 283.8,183.5 284.0,183.3 284.1,183.0 284.3,182.8 284.5,182.5 284.7,182.3 284.9,182.0 285.1,181.8 285.3,181.5 285.5,181.2 285.6,181.0 285.8,180.7 286.0,180.5 286.2,180.2 286.4,180.0 286.6,179.8 286.8,179.5 287.0,179.3 287.2,179.1 287.4,178.8 287.6,178.6 287.8,178.4 288.0,178.2 288.2,177.9 288.4,177.7 288.6,177.5 288.8,177.3 289.0,177.1 289.2,176.9 289.4,176.6 289.5,176.4 289.7,176.2 290.0,176.0 290.2,175.8 290.4,175.5 290.6,175.3 290.9,175.1 291.1,174.9 291.3,174.7 291.5,174.4 291.7,174.2 292.0,174.0 292.2,173.8 292.4,173.6 292.6,173.4 292.9,173.2 293.1,173.0 293.3,172.8 293.5,172.6 293.8,172.4 294.0,172.2 294.2,172.0 294.4,171.8 294.6,171.7 294.9,171.5 295.1,171.3 295.3,171.1 295.6,170.9 295.8,170.7 296.1,170.5 296.3,170.3 296.6,170.2 296.8,170.0 297.1,169.8 297.3,169.6 297.6,169.5 297.8,169.3 298.1,169.1 298.3,169.0 298.6,168.8 298.9,168.7 299.1,168.5 299.4,168.4 299.6,168.2 299.9,168.0 300.2,167.9 300.5,167.7 300.7,167.6 301.0,167.4 301.3,167.3 301.6,167.1 301.9,167.0 302.1,166.8 302.4,166.7 302.7,166.5 303.0,166.4 303.3,166.3 303.5,166.1 303.8,166.0 304.1,165.9 304.4,165.7 304.6,165.6 304.9,165.5 305.2,165.4 305.5,165.2 305.8,165.1 306.0,165.0 306.3,164.9 306.6,164.7 306.9,164.6 307.2,164.5 307.5,164.3 307.8,164.2 308.2,164.1 308.5,163.9 308.8,163.8 309.1,163.7 309.4,163.6 309.7,163.4 310.0,163.3 310.3,163.2 310.6,163.1 310.9,163.0 311.2,162.8 311.5,162.7 311.8,162.6 312.1,162.5 312.4,162.4 312.7,162.3 313.1,162.2 313.4,162.1 313.7,162.0 314.0,161.8 314.3,161.7 314.6,161.6 314.9,161.5 315.2,161.4 315.5,161.3 315.8,161.2 316.1,161.1 316.4,161.0 316.7,161.0 317.0,160.9 317.4,160.8 317.7,160.7 318.0,160.6 318.4,160.5 318.7,160.4 319.0,160.3 319.4,160.2 319.7,160.1 320.0,160.0 320.4,159.9 320.7,159.8 321.0,159.7 321.4,159.6 321.7,159.5 322.0,159.4 322.4,159.3 322.7,159.3 323.1,159.2 323.4,159.1 323.7,159.0 324.1,158.9 324.4,158.8 324.7,158.7 325.1,158.7 325.4,158.6 325.7,158.5 326.1,158.4 326.4,158.3 326.7,158.3 327.1,158.2 327.4,158.1 327.7,158.0 328.1,158.0 328.4,157.9 328.7,157.8 329.1,157.8 329.4,157.7 329.7,157.6 330.1,157.6 330.4,157.5 330.8,157.4 331.1,157.4 331.5,157.3 331.9,157.2 332.2,157.2 332.6,157.1 332.9,157.0 333.3,157.0 333.7,156.9 334.0,156.8 334.4,156.8 334.7,156.7 335.1,156.7 335.5,156.6 335.8,156.5 336.2,156.5 336.6,156.4 336.9,156.4 337.3,156.3 337.6,156.3 338.0,156.2 338.4,156.1 338.7,156.1 339.1,156.0 339.5,156.0 339.8,155.9 340.2,155.9 340.5,155.8 340.9,155.8 341.3,155.7 341.6,155.7 342.0,155.6 342.4,155.6 342.7,155.6 343.1,155.5 343.4,155.5 343.8,155.4 344.2,155.4 344.5,155.4 344.9,155.3 345.2,155.3 345.6,155.2 346.0,155.2 346.4,155.2 346.8,155.1 347.2,155.1 347.6,155.0 348.0,155.0 348.4,155.0 348.8,154.9 349.1,154.9 349.5,154.9 349.9,154.9 350.3,154.8 350.7,154.8 351.1,154.8 351.5,154.7 351.9,154.7 352.3,154.7 352.7,154.7 353.0,154.6 353.4,154.6 353.8,154.6 354.2,154.6 354.6,154.5 355.0,154.5 355.4,154.5 355.8,154.5 356.2,154.5 356.6,154.4 356.9,154.4 357.3,154.4 357.7,154.4 358.1,154.4 358.5,154.4 358.9,154.4 359.3,154.3 359.7,154.3 360.1,154.3 360.5,154.3 360.8,154.3 361.3,154.3 361.7,154.3 362.1,154.3 362.5,154.3 362.9,154.2 363.4,154.2 363.8,154.2 364.2,154.2 364.6,154.2 365.0,154.2 365.4,154.2 365.9,154.2 366.3,154.2 366.7,154.2 367.1,154.2 367.5,154.2 367.9,154.2 368.4,154.2 368.8,154.2 369.2,154.2 369.6,154.2 370.0,154.2 370.5,154.2 370.9,154.2 371.3,154.2 371.7,154.2 372.1,154.2 372.5,154.2 373.0,154.2 373.4,154.3 373.8,154.3 374.2,154.3 374.6,154.3 375.0,154.3 375.5,154.3 375.9,154.3 376.3,154.3 376.7,154.3 377.1,154.3 377.4,154.4 377.8,154.4 378.2,154.4 378.6,154.4 379.0,154.4 379.4,154.4 379.8,154.4 380.2,154.5 380.6,154.5 381.0,154.5 381.3,154.5 381.7,154.5 382.1,154.5 382.5,154.5 382.9,154.6 383.3,154.6 383.7,154.6 384.1,154.6 384.5,154.6 384.9,154.7 385.2,154.7 385.6,154.7 386.0,154.7 386.4,154.7 386.8,154.8 387.2,154.8 387.6,154.8 388.0,154.8 388.4,154.8 388.8,154.9 389.1,154.9 389.5,154.9 389.9,154.9 390.3,155.0 390.7,155.0 391.1,155.0 391.5,155.0 391.9,155.1 392.3,155.1 392.6,155.1 393.0,155.1 393.4,155.2 393.8,155.2 394.2,155.2 394.6,155.3 395.0,155.3 395.4,155.3 395.8,155.3 396.2,155.4 396.5,155.4 396.9,155.4 397.3,155.5 397.7,155.5 398.1,155.5 398.5,155.5 398.9,155.6 399.3,155.6 399.7,155.6 400.1,155.7 400.4,155.7 400.8,155.7 401.2,155.8 401.6,155.8 402.0,155.8 402.4,155.9 402.8,155.9 403.2,155.9 403.6,156.0 404.0,156.0 404.3,156.0 404.7,156.1 405.1,156.1 405.5,156.1 405.9,156.2 406.3,156.2 406.7,156.3 407.1,156.3 407.5,156.3 407.9,156.4 408.2,156.4 408.6,156.4 409.0,156.5 409.4,156.5 409.8,156.6 410.2,156.6 410.6,156.6 411.0,156.7 411.4,156.7 411.8,156.7 412.1,156.8 412.5,156.8 412.9,156.9 413.3,156.9 413.7,156.9 414.1,157.0 414.5,157.0 414.9,157.1 415.2,157.1 415.6,157.1 416.0,157.2 416.3,157.2 416.7,157.3 417.0,157.3 417.4,157.3 417.8,157.4 418.1,157.4 418.5,157.5 418.9,157.5 419.2,157.5 419.6,157.6 419.9,157.6 420.3,157.7 420.7,157.7 421.0,157.7 421.4,157.8 421.8,157.8 422.1,157.9 422.5,157.9 422.8,157.9 423.2,158.0 423.6,158.0 423.9,158.1 424.3,158.1 424.6,158.2 425.0,158.2 425.4,158.2 425.7,158.3 426.1,158.3 426.5,158.4 426.8,158.4 427.2,158.5 427.5,158.5 427.9,158.5 428.3,158.6 428.6,158.6 429.0,158.7 429.4,158.7 429.7,158.8 430.1,158.8 430.4,158.8 430.8,158.9 431.2,158.9 431.5,159.0 431.9,159.0 432.3,159.1 432.6,159.1 433.0,159.2 433.3,159.2 433.7,159.2 434.1,159.3 434.4,159.3 434.8,159.4 435.1,159.4 435.5,159.5 435.9,159.5 436.2,159.6 436.6,159.6 437.0,159.7 437.3,159.7 437.7,159.8 438.0,159.8 438.4,159.8 438.8,159.9 439.1,159.9 439.5,160.0 439.9,160.0 440.2,160.1 440.6,160.1 440.9,160.2 441.3,160.2 441.7,160.3 442.0,160.3 442.4,160.4 442.8,160.4 443.1,160.5 443.5,160.5 443.8,160.6 444.2,160.6 444.6,160.7 444.9,160.7 445.3,160.8 445.6,160.8 446.0,160.9 446.4,160.9 446.7,161.0 447.1,161.0 447.5,161.1 447.8,161.1 448.2,161.2 448.5,161.2 448.9,161.3 449.3,161.3 449.6,161.3 450.0,161.4 450.4,161.4 450.7,161.5 451.1,161.5 451.4,161.6 451.8,161.7 452.2,161.7 452.5,161.8 452.9,161.8 453.3,161.9 453.6,161.9 454.0,162.0 454.3,162.0 454.7,162.1 455.1,162.1 455.4,162.2 455.8,162.2 456.1,162.3 456.5,162.3 456.9,162.4 457.2,162.4 457.6,162.5 458.0,162.5 458.3,162.6 458.7,162.6 459.0,162.7 459.4,162.7 459.8,162.8 460.1,162.8 460.5,162.9 460.9,162.9 461.2,163.0 461.6,163.0 461.9,163.1 462.3,163.1 462.7,163.2 463.0,163.2 463.4,163.3 463.8,163.3 464.1,163.4 464.5,163.5 464.8,163.5 465.2,163.6 465.6,163.6 465.9,163.7 466.3,163.7 466.6,163.8 467.0,163.8 467.4,163.9 467.7,163.9 468.1,164.0 468.5,164.0 468.8,164.1 469.2,164.1 469.5,164.2 469.9,164.2 470.3,164.3 470.6,164.4 471.0,164.4 471.4,164.5 471.7,164.5 472.1,164.6 472.4,164.6 472.8,164.7 473.2,164.7 473.5,164.8 473.9,164.8 474.2,164.9 474.6,164.9 475.0,165.0 475.3,165.1 475.7,165.1 476.1,165.2 476.4,165.2 476.8,165.3 477.1,165.3 477.5,165.4 477.9,165.4 478.2,165.5 478.6,165.5 479.0,165.6 479.3,165.7 479.7,165.7 480.0,165.8 480.4,165.8 480.8,165.9 481.1,165.9 481.5,166.0 481.9,166.0 482.2,166.1 482.6,166.1 482.9,166.2 483.3,166.3 483.7,166.3 484.0,166.4 484.4,166.4 484.7,166.5 485.1,166.5 485.5,166.6 485.8,166.6 486.2,166.7 486.6,166.8 486.9,166.8 487.3,166.9 487.6,166.9 488.0,167.0 488.4,167.0 488.7,167.1 489.1,167.1 489.4,167.2" fill="none" stroke="#45c845" stroke-width="3.10" stroke-linejoin="round" stroke-linecap="round" clip-path="url(#cTL)"/>
<path d="M613.9,68.1 614.3,68.1 614.7,68.1 615.2,68.1 615.6,68.1 616.0,68.1 616.4,68.1 616.8,68.1 617.2,68.1 617.7,68.1 618.1,68.1 618.5,68.1 618.9,68.1 619.3,68.1 619.8,68.1 620.2,68.1 620.6,68.1 621.0,68.1 621.4,68.1 621.8,68.1 622.3,68.1 622.7,68.1 623.1,68.1 623.5,68.1 623.9,68.1 624.3,68.1 624.8,68.1 625.2,68.1 625.6,68.1 626.0,68.1 626.4,68.1 626.9,68.1 627.3,68.1 627.7,68.1 628.1,68.1 628.5,68.1 628.9,68.1 629.4,68.1 629.8,68.1 630.2,68.1 630.6,68.1 631.0,68.1 631.5,68.1 631.9,68.1 632.3,68.1 632.7,68.1 633.1,68.1 633.5,68.1 634.0,68.1 634.4,68.1 634.8,68.1 635.2,68.1 635.6,68.1 636.1,68.1 636.5,68.1 636.9,68.1 637.3,68.1 637.7,68.1 638.1,68.1 638.6,68.1 639.0,68.1 639.4,68.1 639.8,68.1 640.2,68.1 640.6,68.1 641.1,68.1 641.5,68.1 641.9,68.1 642.3,68.1 642.7,68.1 643.2,68.1 643.6,68.1 644.0,68.1 644.4,68.1 644.8,68.1 645.2,68.1 645.7,68.1 646.1,68.1 646.5,68.1 646.9,68.1 647.3,68.1 647.8,68.1 648.2,68.1 648.6,68.1 649.0,68.1 649.4,68.1 649.8,68.1 650.3,68.1 650.7,68.1 651.1,68.1 651.5,68.1 651.9,68.1 652.4,68.1 652.8,68.1 653.2,68.1 653.6,68.1 654.0,68.1 654.4,68.1 654.9,68.1 655.3,68.0 655.7,68.0 656.1,68.0 656.5,68.0 657.0,68.0 657.4,68.0 657.8,68.0 658.2,68.0 658.6,68.0 659.0,68.0 659.5,68.0 659.9,68.0 660.3,68.0 660.7,68.0 661.1,68.0 661.5,68.0 662.0,68.0 662.4,68.0 662.8,68.0 663.2,68.0 663.6,68.0 664.1,68.0 664.5,68.0 664.9,68.0 665.3,68.0 665.7,68.0 666.1,68.0 666.6,68.0 667.0,68.0 667.4,68.0 667.8,68.0 668.2,68.0 668.7,68.0 669.1,68.0 669.5,68.0 669.9,68.0 670.3,68.0 670.7,68.0 671.2,68.0 671.6,68.0 672.0,68.0 672.4,68.0 672.8,67.9 673.3,67.9 673.7,67.9 674.1,67.9 674.5,67.9 674.9,67.9 675.3,67.9 675.8,67.9 676.2,67.9 676.6,67.9 677.0,67.9 677.4,67.9 677.8,67.9 678.3,67.9 678.7,67.9 679.1,67.9 679.5,67.9 679.9,67.9 680.4,67.9 680.8,67.9 681.2,67.9 681.6,67.9 682.0,67.9 682.4,67.9 682.9,67.8 683.3,67.8 683.7,67.8 684.1,67.8 684.5,67.8 685.0,67.8 685.4,67.8 685.8,67.8 686.2,67.8 686.6,67.8 687.0,67.8 687.5,67.8 687.9,67.8 688.3,67.8 688.7,67.8 689.1,67.8 689.6,67.8 690.0,67.8 690.4,67.8 690.8,67.7 691.2,67.7 691.6,67.7 692.1,67.7 692.5,67.7 692.9,67.7 693.3,67.7 693.7,67.7 694.1,67.7 694.6,67.7 695.0,67.7 695.4,67.7 695.8,67.7 696.2,67.7 696.7,67.7 697.1,67.6 697.5,67.6 697.9,67.6 698.3,67.6 698.7,67.6 699.2,67.6 699.6,67.6 700.0,67.6 700.4,67.6 700.8,67.6 701.3,67.6 701.7,67.6 702.1,67.6 702.5,67.5 702.9,67.5 703.3,67.5 703.8,67.5 704.2,67.5 704.6,67.5 705.0,67.5 705.4,67.5 705.9,67.5 706.3,67.5 706.7,67.5 707.1,67.5 707.5,67.4 707.9,67.4 708.4,67.4 708.8,67.4 709.2,67.4 709.6,67.4 710.0,67.4 710.4,67.4 710.9,67.4 711.3,67.4 711.7,67.4 712.1,67.3 712.5,67.3 713.0,67.3 713.4,67.3 713.8,67.3 714.2,67.3 714.6,67.3 715.0,67.3 715.5,67.3 715.9,67.3 716.3,67.3 716.7,67.2 717.1,67.2 717.6,67.2 718.0,67.2 718.4,67.2 718.8,67.2 719.2,67.2 719.6,67.2 720.1,67.2 720.5,67.1 720.9,67.1 721.3,67.1 721.7,67.1 722.1,67.1 722.5,67.1 722.8,67.1 723.2,67.1 723.6,67.1 724.0,67.1 724.4,67.0 724.8,67.0 725.2,67.0 725.6,67.0 726.0,67.0 726.4,67.0 726.8,67.0 727.1,67.0 727.5,67.0 727.9,67.0 728.3,66.9 728.7,66.9 729.1,66.9 729.5,66.9 729.9,66.9 730.3,66.9 730.7,66.9 731.0,66.9 731.4,66.9 731.8,66.8 732.2,66.8 732.6,66.8 733.0,66.8 733.4,66.8 733.8,66.8 734.2,66.8 734.6,66.8 734.9,66.8 735.3,66.7 735.7,66.7 736.1,66.7 736.5,66.7 736.9,66.7 737.3,66.7 737.7,66.7 738.1,66.7 738.5,66.6 738.8,66.6 739.2,66.6 739.6,66.6 740.0,66.6 740.4,66.6 740.8,66.6 741.2,66.6 741.6,66.5 742.0,66.5 742.4,66.5 742.7,66.5 743.1,66.5 743.5,66.5 743.9,66.5 744.3,66.5 744.7,66.4 745.1,66.4 745.5,66.4 745.9,66.4 746.3,66.4 746.6,66.4 747.0,66.4 747.4,66.3 747.8,66.3 748.2,66.3 748.6,66.3 749.0,66.3 749.4,66.3 749.8,66.2 750.2,66.2 750.5,66.2 750.9,66.2 751.3,66.2 751.7,66.2 752.1,66.1 752.5,66.1 752.9,66.1 753.3,66.1 753.7,66.1 754.1,66.0 754.4,66.0 754.8,66.0 755.2,66.0 755.6,65.9 756.0,65.9 756.4,65.9 756.8,65.9 757.2,65.8 757.6,65.8 758.0,65.8 758.3,65.8 758.7,65.7 759.1,65.7 759.5,65.7 759.9,65.6 760.3,65.6 760.7,65.6 761.1,65.5 761.5,65.5 761.8,65.5 762.2,65.4 762.6,65.4 762.9,65.3 763.3,65.3 763.6,65.2 764.0,65.2 764.4,65.1 764.7,65.1 765.1,65.0 765.5,64.9 765.8,64.9 766.2,64.8 766.5,64.7 766.8,64.7 767.2,64.6 767.5,64.5 767.9,64.4 768.2,64.3 768.5,64.2 768.8,64.1 769.1,64.0 769.4,63.9 769.7,63.8 770.1,63.7 770.4,63.6 770.6,63.5 770.9,63.3 771.2,63.2 771.5,63.0 771.8,62.9 772.0,62.7 772.3,62.6 772.5,62.4 772.8,62.2 773.0,62.0 773.2,61.8 773.5,61.6 773.7,61.4 773.9,61.2 774.1,61.0 774.3,60.7 774.5,60.5 774.7,60.3 774.9,60.0 775.1,59.7 775.3,59.5 775.4,59.3 775.6,59.0 775.8,58.7 775.9,58.5 776.1,58.2 776.3,57.9 776.4,57.7 776.6,57.4 776.8,57.1 776.9,56.9 777.1,56.7 777.4,56.5 777.8,56.5 778.0,56.7 778.1,57.1 778.2,57.4 778.3,57.8 778.4,58.2 778.5,58.6 778.6,59.1 778.6,59.5 778.7,59.9 778.7,60.3 778.8,60.7 778.9,61.1 778.9,61.6 779.0,62.1 779.0,62.6 779.1,63.1 779.1,63.6 779.2,64.2 779.2,64.7 779.3,65.3 779.4,65.8 779.4,66.4 779.5,67.0 779.5,67.6 779.6,68.1 779.6,68.7 779.7,69.2 779.7,69.8 779.8,70.3 779.9,70.8 779.9,71.3 780.0,71.8 780.0,72.3 780.1,72.7 780.1,73.2 780.2,73.6 780.2,74.0 780.3,74.3 780.4,74.7 780.4,75.2 780.5,75.6 780.6,76.0 780.7,76.4 780.8,76.8 780.9,77.1 781.1,77.5 781.2,77.8 781.4,78.0 781.7,78.1 782.1,78.0 782.3,77.9 782.6,77.7 782.8,77.5 783.0,77.3 783.3,77.1 783.5,76.8 783.7,76.6 783.9,76.4 784.2,76.2 784.4,76.1 784.6,75.9 784.8,75.7 785.1,75.5 785.3,75.3 785.6,75.2 785.9,75.0 786.1,74.9 786.4,74.7 786.7,74.6 787.0,74.4 787.3,74.3 787.6,74.2 787.9,74.1 788.2,74.0 788.5,73.9 788.8,73.8 789.2,73.7 789.5,73.6 789.8,73.5 790.2,73.5 790.5,73.4 790.9,73.4 791.3,73.3 791.6,73.3 792.0,73.2 792.4,73.2 792.8,73.1 793.2,73.1 793.5,73.1 793.9,73.1 794.3,73.1 794.7,73.1 795.1,73.0 795.5,73.0 796.0,73.0 796.4,73.0 796.8,73.0 797.2,73.1 797.6,73.1 798.0,73.1 798.4,73.1 798.8,73.1 799.2,73.1 799.6,73.2 799.9,73.2 800.3,73.2 800.7,73.3 801.1,73.3 801.5,73.3 801.9,73.4 802.3,73.4 802.7,73.4 803.0,73.5 803.4,73.5 803.8,73.6 804.1,73.6 804.5,73.6 804.9,73.7 805.2,73.7 805.6,73.8 805.9,73.8 806.3,73.9 806.7,73.9 807.0,74.0 807.4,74.0 807.8,74.1 808.1,74.2 808.5,74.2 808.8,74.3 809.2,74.3 809.6,74.4 809.9,74.4 810.3,74.5 810.6,74.6 811.0,74.6 811.4,74.7 811.7,74.8 812.1,74.8 812.5,74.9 812.8,75.0 813.2,75.0 813.5,75.1 813.9,75.2 814.2,75.2 814.6,75.3 814.9,75.4 815.2,75.4 815.6,75.5 815.9,75.6 816.2,75.7 816.6,75.7 816.9,75.8 817.2,75.9 817.6,76.0 817.9,76.0 818.2,76.1 818.6,76.2 818.9,76.3 819.2,76.3 819.6,76.4 819.9,76.5 820.2,76.6 820.6,76.7 820.9,76.7 821.2,76.8 821.6,76.9 821.9,77.0 822.2,77.1 822.6,77.1 822.9,77.2 823.2,77.3 823.6,77.4 823.9,77.5 824.2,77.6 824.6,77.7 824.9,77.8 825.3,77.8 825.6,77.9 825.9,78.0 826.3,78.1 826.6,78.2 826.9,78.3 827.3,78.4 827.6,78.5 827.9,78.6 828.3,78.7 828.6,78.8 828.9,78.9 829.3,79.0 829.6,79.1 829.9,79.2 830.3,79.3 830.6,79.4 830.9,79.5 831.3,79.6 831.6,79.7 831.9,79.8 832.3,79.9 832.6,80.0 832.9,80.0 833.2,80.1 833.5,80.2 833.8,80.3 834.1,80.4 834.4,80.5 834.8,80.6 835.1,80.7 835.4,80.8 835.7,80.9 836.0,81.0 836.3,81.1 836.6,81.2 836.9,81.3 837.2,81.4 837.5,81.5 837.8,81.6 838.1,81.7 838.4,81.8 838.7,81.9 839.0,82.0 839.3,82.1 839.7,82.2 840.0,82.3 840.3,82.4 840.6,82.5 840.9,82.6 841.2,82.7 841.5,82.8 841.8,83.0 842.1,83.1 842.4,83.2 842.7,83.3 843.0,83.4 843.3,83.5 843.6,83.6 843.9,83.7 844.3,83.8 844.6,83.9 844.9,84.0 845.2,84.1 845.5,84.2 845.8,84.4 846.1,84.5 846.4,84.6 846.7,84.7 847.0,84.8 847.3,84.9 847.6,85.0 847.9,85.1 848.2,85.3 848.5,85.4 848.9,85.5 849.2,85.6 849.5,85.7 849.8,85.8 850.1,85.9 850.4,86.1 850.7,86.2 851.0,86.3 851.3,86.4 851.6,86.5 851.9,86.6 852.2,86.7 852.5,86.9 852.8,87.0 853.1,87.1 853.4,87.2 853.8,87.3 854.1,87.5 854.4,87.6 854.7,87.7 855.0,87.8 855.3,87.9 855.6,88.1 855.9,88.2 856.2,88.3 856.5,88.4 856.8,88.5 857.1,88.7 857.4,88.8 857.7,88.9 858.0,89.0 858.4,89.1 858.7,89.3 859.0,89.4 859.3,89.5 859.6,89.6 859.9,89.8 860.2,89.9 860.5,90.0 860.8,90.1 861.1,90.3 861.4,90.4 861.7,90.5 862.0,90.6 862.3,90.8 862.6,90.9 863.0,91.0 863.3,91.1 863.6,91.3 863.9,91.4 864.2,91.5 864.5,91.6 864.8,91.8 865.1,91.9 865.4,92.0 865.7,92.2 866.0,92.3 866.3,92.4 866.6,92.5 866.9,92.7 867.2,92.8 867.5,92.9 867.9,93.1 868.2,93.2 868.5,93.3 868.8,93.4 869.1,93.6 869.4,93.7 869.7,93.8 870.0,94.0 870.3,94.1 870.6,94.2 870.9,94.4 871.2,94.5 871.5,94.6 871.8,94.8 872.1,94.9 872.5,95.0 872.8,95.2 873.1,95.3 873.4,95.4 873.7,95.6 874.0,95.7 874.3,95.8 874.6,96.0 874.9,96.1 875.2,96.2 875.4,96.3 875.7,96.4 876.0,96.6 876.3,96.7 876.5,96.8 876.8,96.9 877.1,97.1 877.4,97.2 877.7,97.3 877.9,97.4 878.2,97.5 878.5,97.7 878.8,97.8 879.1,97.9 879.3,98.0 879.6,98.2 879.9,98.3 880.2,98.4 880.4,98.5 880.7,98.7 881.0,98.8 881.3,98.9 881.6,99.0 881.8,99.2 882.1,99.3 882.4,99.4 882.7,99.5 883.0,99.6 883.2,99.8 883.5,99.9 883.8,100.0 884.1,100.1 884.4,100.3 884.6,100.4 884.9,100.5 885.2,100.7 885.5,100.8 885.7,100.9 886.0,101.0 886.3,101.2 886.6,101.3 886.9,101.4 887.1,101.5 887.4,101.7 887.7,101.8 888.0,101.9 888.3,102.0 888.5,102.2 888.8,102.3 889.1,102.4 889.4,102.5 889.6,102.7 889.9,102.8 890.2,102.9 890.5,103.1 890.8,103.2 891.0,103.3 891.3,103.4 891.6,103.6 891.9,103.7 892.2,103.8 892.4,103.9 892.7,104.1 893.0,104.2 893.3,104.3 893.5,104.5 893.8,104.6 894.1,104.7 894.4,104.8 894.7,105.0 894.9,105.1 895.2,105.2 895.5,105.4 895.8,105.5 896.1,105.6 896.3,105.7 896.6,105.9 896.9,106.0 897.2,106.1 897.4,106.3 897.7,106.4 898.0,106.5 898.3,106.6 898.6,106.8 898.8,106.9 899.1,107.0 899.4,107.2 899.7,107.3 900.0,107.4 900.2,107.6 900.5,107.7 900.8,107.8 901.1,107.9 901.3,108.1 901.6,108.2 901.9,108.3 902.2,108.5 902.5,108.6 902.7,108.7 903.0,108.9 903.3,109.0 903.6,109.1 903.9,109.2 904.1,109.4 904.4,109.5 904.7,109.6 905.0,109.8 905.2,109.9 905.5,110.0 905.8,110.2 906.1,110.3 906.4,110.4 906.6,110.5 906.9,110.7 907.2,110.8 907.5,110.9 907.8,111.1 908.0,111.2 908.3,111.3 908.6,111.5 908.9,111.6 909.1,111.7 909.4,111.9 909.7,112.0 910.0,112.1 910.3,112.3 910.5,112.4 910.8,112.5 911.1,112.6 911.4,112.8 911.7,112.9 911.9,113.0 912.2,113.2 912.5,113.3 912.8,113.4 913.1,113.6 913.3,113.7 913.6,113.8 913.9,114.0 914.2,114.1 914.4,114.2 914.7,114.4 915.0,114.5 915.3,114.6 915.6,114.7 915.8,114.9 916.1,115.0 916.4,115.1 916.7,115.3 917.0,115.4 917.2,115.5 917.5,115.7 917.8,115.8 918.1,115.9 918.3,116.1 918.6,116.2 918.9,116.3 919.2,116.5 919.5,116.6 919.7,116.7 920.0,116.9 920.3,117.0 920.6,117.1 920.9,117.3 921.1,117.4 921.4,117.5 921.7,117.7 922.0,117.8 922.2,117.9 922.5,118.1 922.8,118.2 923.1,118.3 923.4,118.4 923.6,118.6 923.9,118.7 924.2,118.8 924.5,119.0 924.8,119.1 925.0,119.2 925.3,119.4 925.6,119.5 925.9,119.6 926.1,119.8 926.4,119.9 926.7,120.0 927.0,120.2 927.3,120.3 927.5,120.4 927.8,120.6 928.1,120.7 928.4,120.8 928.7,121.0 928.9,121.1 929.2,121.2 929.5,121.4 929.8,121.5 930.0,121.6 930.3,121.8 930.6,121.9 930.9,122.0 931.2,122.2 931.4,122.3 931.7,122.4 932.0,122.6 932.3,122.7 932.6,122.8 932.8,123.0 933.1,123.1 933.4,123.2 933.7,123.4 933.9,123.5 934.2,123.6 934.5,123.8 934.8,123.9 935.1,124.0 935.3,124.2 935.6,124.3 935.9,124.4 936.2,124.5 936.5,124.7 936.7,124.8 937.0,124.9 937.3,125.1 937.6,125.2 937.9,125.3 938.1,125.5 938.4,125.6 938.7,125.7 939.0,125.9 939.2,126.0 939.5,126.1 939.8,126.3 940.1,126.4 940.4,126.5 940.6,126.7 940.9,126.8 941.2,126.9 941.5,127.1 941.8,127.2 942.0,127.3 942.3,127.5 942.6,127.6 942.9,127.7 943.1,127.9 943.4,128.0 943.7,128.1 944.0,128.3 944.3,128.4 944.5,128.5 944.8,128.7 945.1,128.8 945.4,128.9 945.7,129.1 945.9,129.2 946.2,129.3 946.5,129.5 946.8,129.6 947.0,129.7 947.3,129.9 947.6,130.0 947.9,130.1 948.2,130.2 948.4,130.4 948.7,130.5 949.0,130.6 949.3,130.8 949.6,130.9 949.8,131.0 950.1,131.2 950.4,131.3 950.7,131.4 950.9,131.6 951.2,131.7 951.5,131.8 951.8,132.0 952.1,132.1 952.3,132.2 952.6,132.4 952.9,132.5 953.2,132.6 953.5,132.8 953.7,132.9 954.0,133.0 954.3,133.2 954.6,133.3 954.8,133.4 955.1,133.6 955.4,133.7 955.7,133.8 956.0,133.9 956.2,134.1 956.5,134.2 956.8,134.3 957.1,134.5 957.4,134.6 957.6,134.7 957.9,134.9 958.2,135.0 958.5,135.1 958.7,135.3 959.0,135.4 959.3,135.5 959.6,135.7 959.9,135.8 960.1,135.9 960.4,136.1 960.7,136.2 961.0,136.3 961.3,136.5 961.5,136.6 961.8,136.7 962.1,136.8 962.4,137.0 962.6,137.1 962.9,137.2 963.2,137.4 963.5,137.5 963.8,137.6 964.0,137.8 964.3,137.9 964.6,138.0 964.9,138.2 965.2,138.3 965.4,138.4 965.7,138.6 966.0,138.7 966.3,138.8 966.6,138.9 966.8,139.1 967.1,139.2 967.4,139.3 967.7,139.5 967.9,139.6 968.2,139.7 968.5,139.9 968.8,140.0 969.1,140.1 969.3,140.3 969.6,140.4 969.9,140.5 970.2,140.6 970.5,140.8 970.7,140.9 971.0,141.0 971.3,141.2 971.6,141.3 971.8,141.4 972.1,141.6 972.4,141.7 972.7,141.8 973.0,142.0 973.2,142.1 973.5,142.2 973.8,142.3 974.1,142.5 974.4,142.6 974.6,142.7 974.9,142.9 975.2,143.0 975.5,143.1 975.7,143.3 976.0,143.4 976.3,143.5 976.6,143.6 976.9,143.8 977.1,143.9 977.4,144.0 977.7,144.2 978.0,144.3 978.3,144.4 978.5,144.6 978.8,144.7 979.1,144.8 979.4,144.9 979.6,145.1 979.9,145.2 980.2,145.3 980.5,145.5 980.8,145.6 981.0,145.7 981.3,145.8 981.6,146.0 981.9,146.1 982.2,146.2 982.4,146.4 982.7,146.5 983.0,146.6 983.3,146.8 983.5,146.9 983.8,147.0 984.1,147.1 984.4,147.3 984.7,147.4 984.9,147.5 985.2,147.7 985.5,147.8 985.8,147.9 986.1,148.0 986.3,148.2 986.6,148.3 986.9,148.4 987.2,148.6 987.4,148.7 987.7,148.8 988.0,148.9 988.3,149.1 988.6,149.2 988.8,149.3 989.1,149.5 989.4,149.6 989.7,149.7 990.0,149.8 990.2,150.0 990.5,150.1 990.8,150.2 991.1,150.3 991.3,150.5 991.6,150.6 991.9,150.7 992.2,150.9 992.5,151.0 992.7,151.1 993.0,151.2 993.3,151.4 993.6,151.5 993.9,151.6 994.1,151.8 994.4,151.9 994.7,152.0 995.0,152.1 995.3,152.3 995.5,152.4 995.8,152.5 996.1,152.6 996.4,152.8 996.6,152.9 996.9,153.0 997.2,153.2 997.5,153.3 997.8,153.4 998.0,153.5 998.3,153.7 998.6,153.8 998.9,153.9 999.2,154.0 999.4,154.2 999.7,154.3 1000.0,154.4 1000.3,154.6 1000.5,154.7 1000.8,154.8 1001.1,154.9 1001.4,155.1 1001.7,155.2 1001.9,155.3 1002.2,155.4 1002.5,155.6 1002.8,155.7 1003.1,155.8 1003.3,155.9 1003.6,156.1 1003.9,156.2 1004.0,156.2" fill="none" stroke="#20209e" stroke-width="2.70" stroke-linejoin="round" stroke-linecap="round" clip-path="url(#cTR)"/>
<path d="M99.3,483.6 99.7,483.6 100.1,483.6 100.6,483.6 101.0,483.6 101.4,483.6 101.8,483.6 102.2,483.6 102.6,483.6 103.1,483.6 103.5,483.6 103.9,483.6 104.3,483.6 104.7,483.6 105.1,483.6 105.6,483.6 106.0,483.6 106.4,483.6 106.8,483.6 107.2,483.6 107.7,483.6 108.1,483.6 108.5,483.7 108.9,483.7 109.3,483.7 109.7,483.7 110.2,483.7 110.6,483.7 111.0,483.7 111.4,483.7 111.8,483.7 112.3,483.7 112.7,483.7 113.1,483.7 113.5,483.7 113.9,483.7 114.3,483.7 114.8,483.7 115.2,483.7 115.6,483.7 116.0,483.7 116.4,483.7 116.8,483.7 117.3,483.7 117.7,483.7 118.1,483.7 118.5,483.7 118.9,483.7 119.4,483.7 119.8,483.7 120.2,483.7 120.6,483.7 121.0,483.7 121.4,483.7 121.9,483.7 122.3,483.7 122.7,483.7 123.1,483.7 123.5,483.7 124.0,483.7 124.4,483.7 124.8,483.7 125.2,483.7 125.6,483.7 126.0,483.7 126.5,483.8 126.9,483.8 127.3,483.8 127.7,483.8 128.1,483.8 128.6,483.8 129.0,483.8 129.4,483.8 129.8,483.8 130.2,483.8 130.6,483.8 131.1,483.8 131.5,483.8 131.9,483.8 132.3,483.8 132.7,483.8 133.1,483.8 133.6,483.8 134.0,483.8 134.4,483.8 134.8,483.8 135.2,483.8 135.7,483.8 136.1,483.8 136.5,483.8 136.9,483.8 137.3,483.8 137.7,483.8 138.2,483.8 138.6,483.8 139.0,483.8 139.4,483.8 139.8,483.8 140.2,483.8 140.7,483.8 141.1,483.8 141.5,483.8 141.9,483.8 142.3,483.9 142.8,483.9 143.2,483.9 143.6,483.9 144.0,483.9 144.4,483.9 144.8,483.9 145.3,483.9 145.7,483.9 146.1,483.9 146.5,483.9 146.9,483.9 147.4,483.9 147.8,483.9 148.2,483.9 148.6,483.9 149.0,483.9 149.4,483.9 149.9,483.9 150.3,483.9 150.7,483.9 151.1,483.9 151.5,483.9 151.9,483.9 152.4,483.9 152.8,483.9 153.2,483.9 153.6,483.9 154.0,483.9 154.5,483.9 154.9,483.9 155.3,483.9 155.7,483.9 156.1,483.9 156.5,484.0 157.0,484.0 157.4,484.0 157.8,484.0 158.2,484.0 158.6,484.0 159.1,484.0 159.5,484.0 159.9,484.0 160.3,484.0 160.7,484.0 161.1,484.0 161.6,484.0 162.0,484.0 162.4,484.0 162.8,484.0 163.2,484.0 163.6,484.0 164.1,484.0 164.5,484.0 164.9,484.0 165.3,484.0 165.7,484.0 166.2,484.0 166.6,484.0 167.0,484.0 167.4,484.0 167.8,484.0 168.2,484.1 168.7,484.1 169.1,484.1 169.5,484.1 169.9,484.1 170.3,484.1 170.8,484.1 171.2,484.1 171.6,484.1 172.0,484.1 172.4,484.1 172.8,484.1 173.3,484.1 173.7,484.1 174.1,484.1 174.5,484.1 174.9,484.1 175.3,484.1 175.8,484.1 176.2,484.1 176.6,484.1 177.0,484.1 177.4,484.1 177.9,484.1 178.3,484.2 178.7,484.2 179.1,484.2 179.5,484.2 179.9,484.2 180.4,484.2 180.8,484.2 181.2,484.2 181.6,484.2 182.0,484.2 182.5,484.2 182.9,484.2 183.3,484.2 183.7,484.2 184.1,484.2 184.5,484.2 185.0,484.2 185.4,484.2 185.8,484.2 186.2,484.2 186.6,484.3 187.1,484.3 187.5,484.3 187.9,484.3 188.3,484.3 188.7,484.3 189.1,484.3 189.6,484.3 190.0,484.3 190.4,484.3 190.8,484.3 191.2,484.3 191.6,484.3 192.1,484.3 192.5,484.3 192.9,484.3 193.3,484.4 193.7,484.4 194.2,484.4 194.6,484.4 195.0,484.4 195.4,484.4 195.8,484.4 196.2,484.4 196.7,484.4 197.1,484.4 197.5,484.4 197.9,484.4 198.3,484.4 198.8,484.4 199.2,484.4 199.6,484.5 200.0,484.5 200.4,484.5 200.8,484.5 201.3,484.5 201.7,484.5 202.1,484.5 202.5,484.5 202.9,484.5 203.3,484.5 203.8,484.5 204.2,484.5 204.6,484.6 205.0,484.6 205.4,484.6 205.9,484.6 206.3,484.6 206.7,484.6 207.1,484.6 207.5,484.6 207.9,484.6 208.4,484.6 208.8,484.6 209.2,484.7 209.6,484.7 210.0,484.7 210.4,484.7 210.8,484.7 211.2,484.7 211.6,484.7 212.0,484.7 212.4,484.7 212.8,484.8 213.2,484.8 213.6,484.8 214.0,484.8 214.4,484.8 214.7,484.8 215.1,484.8 215.5,484.8 215.9,484.8 216.3,484.9 216.7,484.9 217.1,484.9 217.5,484.9 217.9,484.9 218.2,484.9 218.6,484.9 219.0,484.9 219.4,485.0 219.8,485.0 220.2,485.0 220.6,485.0 221.0,485.0 221.4,485.0 221.8,485.1 222.1,485.1 222.5,485.1 222.9,485.1 223.3,485.1 223.7,485.1 224.1,485.1 224.5,485.2 224.9,485.2 225.3,485.2 225.7,485.2 226.1,485.2 226.4,485.3 226.8,485.3 227.2,485.3 227.6,485.3 228.0,485.3 228.4,485.4 228.8,485.4 229.2,485.4 229.6,485.4 229.9,485.4 230.3,485.5 230.7,485.5 231.1,485.5 231.5,485.5 231.9,485.6 232.3,485.6 232.7,485.6 233.1,485.7 233.5,485.7 233.9,485.7 234.2,485.7 234.6,485.8 235.0,485.8 235.4,485.8 235.8,485.9 236.2,485.9 236.6,485.9 237.0,486.0 237.4,486.0 237.8,486.0 238.1,486.1 238.5,486.1 238.9,486.2 239.3,486.2 239.6,486.2 240.0,486.3 240.4,486.3 240.7,486.4 241.1,486.4 241.5,486.4 241.8,486.5 242.2,486.5 242.5,486.6 242.9,486.6 243.3,486.7 243.6,486.8 244.0,486.8 244.4,486.9 244.7,486.9 245.1,487.0 245.4,487.1 245.8,487.1 246.2,487.2 246.5,487.3 246.8,487.3 247.2,487.4 247.5,487.5 247.8,487.5 248.2,487.6 248.5,487.7 248.8,487.8 249.2,487.9 249.5,488.0 249.8,488.1 250.2,488.2 250.5,488.3 250.8,488.4 251.1,488.5 251.4,488.6 251.7,488.7 252.0,488.8 252.3,488.9 252.6,489.1 252.9,489.2 253.2,489.3 253.5,489.4 253.7,489.6 254.0,489.7 254.3,489.9 254.6,490.0 254.8,490.2 255.1,490.4 255.3,490.5 255.6,490.7 255.8,490.9 256.1,491.1 256.3,491.2 256.5,491.4 256.7,491.6 257.0,491.8 257.2,492.0 257.4,492.3 257.6,492.5 257.8,492.7 258.0,492.9 258.2,493.2 258.4,493.4 258.6,493.7 258.8,493.9 258.9,494.1 259.1,494.4 259.3,494.7 259.4,495.0 259.6,495.3 259.8,495.6 259.9,495.8 260.0,496.1 260.2,496.4 260.3,496.7 260.5,497.1 260.6,497.4 260.7,497.8 260.8,498.1 261.0,498.4 261.1,498.7 261.2,499.1 261.3,499.4 261.4,499.8 261.5,500.2 261.6,500.6 261.7,501.0 261.8,501.3 261.9,501.7 262.0,502.0 262.1,502.4 262.2,502.8 262.2,503.2 262.3,503.6 262.4,504.0 262.5,504.5 262.6,504.9 262.7,505.4 262.7,505.9 262.8,506.3 262.8,506.6 262.9,507.0 263.0,507.4 263.0,507.7 263.1,508.1 263.1,508.6 263.2,509.0 263.2,509.4 263.3,509.9 263.4,510.3 263.4,510.8 263.5,511.3 263.5,511.8 263.6,512.3 263.6,512.9 263.7,513.4 263.7,514.0 263.8,514.6 263.9,515.2 263.9,515.8 264.0,516.5 264.0,517.1 264.1,517.8 264.1,518.5 264.2,519.3 264.2,519.7 264.2,520.0 264.3,520.4 264.3,520.8 264.3,521.2 264.4,521.6 264.4,522.1 264.4,522.5 264.4,522.9 264.5,523.3 264.5,523.8 264.5,524.2 264.5,524.7 264.6,525.1 264.6,525.6 264.6,526.1 264.7,526.6 264.7,527.0 264.7,527.5 264.7,528.0 264.8,528.6 264.8,529.1 264.8,529.6 264.9,530.1 264.9,530.7 264.9,531.2 264.9,531.7 265.0,532.3 265.0,532.9 265.0,533.4 265.1,534.0 265.1,534.6 265.1,535.2 265.1,535.8 265.2,536.4 265.2,537.0 265.2,537.6 265.2,538.2 265.3,538.8 265.3,539.5 265.3,540.1 265.4,540.7 265.4,541.4 265.4,542.0 265.4,542.7 265.5,543.3 265.5,544.0 265.5,544.6 265.6,545.3 265.6,546.0 265.6,546.6 265.6,547.3 265.7,548.0 265.7,548.7 265.7,549.3 265.7,550.0 265.8,550.7 265.8,551.3 265.8,552.0 265.9,552.7 265.9,553.4 265.9,554.0 265.9,554.7 266.0,555.4 266.0,556.0 266.0,556.7 266.1,557.4 266.1,558.0 266.1,558.7 266.1,559.3 266.2,560.0 266.2,560.6 266.2,561.2 266.2,561.9 266.3,562.5 266.3,563.1 266.3,563.7 266.4,564.3 266.4,564.9 266.4,565.5 266.4,566.1 266.5,566.7 266.5,567.3 266.5,567.8 266.6,568.4 266.6,569.0 266.6,569.5 266.6,570.1 266.7,570.6 266.7,571.1 266.7,571.7 266.7,572.2 266.8,572.7 266.8,573.2 266.8,573.7 266.9,574.2 266.9,574.7 266.9,575.1 266.9,575.6 267.0,576.1 267.0,576.5 267.0,577.0 267.1,577.4 267.1,577.9 267.1,578.3 267.1,578.7 267.2,579.1 267.2,579.5 267.2,579.9 267.3,580.3 267.3,580.7 267.3,581.1 267.3,581.5 267.4,581.9 267.4,582.6 267.5,583.3 267.5,584.0 267.6,584.6 267.6,585.3 267.7,585.9 267.8,586.5 267.8,587.1 267.9,587.7 267.9,588.2 268.0,588.8 268.0,589.3 268.1,589.8 268.1,590.3 268.2,590.7 268.3,591.2 268.3,591.6 268.4,592.1 268.4,592.5 268.5,592.9 268.5,593.3 268.6,593.7 268.6,594.0 268.7,594.4 268.8,594.8 268.8,595.3 268.9,595.8 269.0,596.2 269.1,596.7 269.2,597.1 269.3,597.5 269.3,597.9 269.4,598.3 269.5,598.7 269.6,599.1 269.7,599.4 269.8,599.8 269.8,600.1 270.0,600.5 270.1,600.9 270.2,601.3 270.3,601.6 270.4,602.0 270.5,602.3 270.6,602.6 270.7,602.9 270.8,603.2 271.0,603.6 271.1,603.9 271.3,604.3 271.4,604.6 271.5,604.9 271.7,605.1 271.8,605.4 272.0,605.7 272.2,606.0 272.3,606.3 272.5,606.6 272.7,606.8 272.8,607.1 273.0,607.3 273.2,607.6 273.4,607.8 273.6,608.0 273.8,608.3 274.0,608.5 274.2,608.7 274.4,608.9 274.6,609.1 274.9,609.3 275.1,609.5 275.3,609.7 275.6,609.9 275.8,610.1 276.1,610.3 276.3,610.4 276.6,610.6 276.8,610.8 277.1,610.9 277.4,611.1 277.6,611.2 277.9,611.4 278.2,611.5 278.5,611.6 278.8,611.8 279.1,611.9 279.4,612.0 279.7,612.1 280.0,612.3 280.3,612.4 280.6,612.5 280.9,612.6 281.2,612.7 281.5,612.8 281.8,612.9 282.2,613.0 282.5,613.0 282.9,613.1 283.2,613.2 283.5,613.3 283.9,613.4 284.2,613.5 284.5,613.5 284.9,613.6 285.2,613.7 285.6,613.7 285.9,613.8 286.3,613.9 286.6,613.9 287.0,614.0 287.4,614.1 287.7,614.1 288.1,614.2 288.5,614.2 288.8,614.3 289.2,614.3 289.5,614.4 289.9,614.4 290.3,614.5 290.6,614.5 291.0,614.6 291.3,614.6 291.7,614.6 292.1,614.7 292.4,614.7 292.8,614.8 293.2,614.8 293.6,614.8 294.0,614.9 294.4,614.9 294.7,614.9 295.1,615.0 295.5,615.0 295.9,615.0 296.3,615.1 296.7,615.1 297.1,615.1 297.5,615.2 297.9,615.2 298.3,615.2 298.6,615.3 299.0,615.3 299.4,615.3 299.8,615.3 300.2,615.4 300.6,615.4 301.0,615.4 301.4,615.4 301.8,615.5 302.2,615.5 302.5,615.5 302.9,615.5 303.3,615.5 303.7,615.6 304.1,615.6 304.5,615.6 304.9,615.6 305.3,615.6 305.7,615.7 306.1,615.7 306.4,615.7 306.8,615.7 307.2,615.7 307.6,615.7 308.0,615.8 308.4,615.8 308.8,615.8 309.2,615.8 309.6,615.8 310.0,615.8 310.3,615.9 310.7,615.9 311.1,615.9 311.5,615.9 311.9,615.9 312.3,615.9 312.7,615.9 313.1,616.0 313.5,616.0 313.9,616.0 314.2,616.0 314.6,616.0 315.0,616.0 315.4,616.0 315.8,616.0 316.2,616.1 316.6,616.1 317.0,616.1 317.4,616.1 317.8,616.1 318.1,616.1 318.5,616.1 318.9,616.1 319.3,616.1 319.7,616.2 320.1,616.2 320.5,616.2 320.9,616.2 321.3,616.2 321.7,616.2 322.2,616.2 322.6,616.2 323.0,616.2 323.4,616.2 323.8,616.3 324.2,616.3 324.7,616.3 325.1,616.3 325.5,616.3 325.9,616.3 326.3,616.3 326.8,616.3 327.2,616.3 327.6,616.3 328.0,616.3 328.4,616.4 328.8,616.4 329.3,616.4 329.7,616.4 330.1,616.4 330.5,616.4 330.9,616.4 331.4,616.4 331.8,616.4 332.2,616.4 332.6,616.4 333.0,616.4 333.4,616.4 333.9,616.5 334.3,616.5 334.7,616.5 335.1,616.5 335.5,616.5 335.9,616.5 336.4,616.5 336.8,616.5 337.2,616.5 337.6,616.5 338.0,616.5 338.5,616.5 338.9,616.5 339.3,616.5 339.7,616.5 340.1,616.5 340.5,616.6 341.0,616.6 341.4,616.6 341.8,616.6 342.2,616.6 342.6,616.6 343.1,616.6 343.5,616.6 343.9,616.6 344.3,616.6 344.7,616.6 345.1,616.6 345.6,616.6 346.0,616.6 346.4,616.6 346.8,616.6 347.2,616.6 347.6,616.6 348.1,616.6 348.5,616.7 348.9,616.7 349.3,616.7 349.7,616.7 350.2,616.7 350.6,616.7 351.0,616.7 351.4,616.7 351.8,616.7 352.2,616.7 352.7,616.7 353.1,616.7 353.5,616.7 353.9,616.7 354.3,616.7 354.8,616.7 355.2,616.7 355.6,616.7 356.0,616.7 356.4,616.7 356.8,616.7 357.3,616.7 357.7,616.7 358.1,616.8 358.5,616.8 358.9,616.8 359.3,616.8 359.8,616.8 360.2,616.8 360.6,616.8 361.0,616.8 361.4,616.8 361.9,616.8 362.3,616.8 362.7,616.8 363.1,616.8 363.5,616.8 363.9,616.8 364.4,616.8 364.8,616.8 365.2,616.8 365.6,616.8 366.0,616.8 366.4,616.8 366.9,616.8 367.3,616.8 367.7,616.8 368.1,616.8 368.5,616.8 369.0,616.8 369.4,616.8 369.8,616.8 370.2,616.9 370.6,616.9 371.0,616.9 371.5,616.9 371.9,616.9 372.3,616.9 372.7,616.9 373.1,616.9 373.6,616.9 374.0,616.9 374.4,616.9 374.8,616.9 375.2,616.9 375.6,616.9 376.1,616.9 376.5,616.9 376.9,616.9 377.3,616.9 377.7,616.9 378.2,616.9 378.6,616.9 379.0,616.9 379.4,616.9 379.8,616.9 380.2,616.9 380.7,616.9 381.1,616.9 381.5,616.9 381.9,616.9 382.3,616.9 382.7,616.9 383.2,616.9 383.6,616.9 384.0,616.9 384.4,616.9 384.8,616.9 385.3,616.9 385.7,617.0 386.1,617.0 386.5,617.0 386.9,617.0 387.3,617.0 387.8,617.0 388.2,617.0 388.6,617.0 389.0,617.0 389.4,617.0 389.9,617.0 390.3,617.0 390.7,617.0 391.1,617.0 391.5,617.0 391.9,617.0 392.4,617.0 392.8,617.0 393.2,617.0 393.6,617.0 394.0,617.0 394.4,617.0 394.9,617.0 395.3,617.0 395.7,617.0 396.1,617.0 396.5,617.0 397.0,617.0 397.4,617.0 397.8,617.0 398.2,617.0 398.6,617.0 399.0,617.0 399.5,617.0 399.9,617.0 400.3,617.0 400.7,617.0 401.1,617.0 401.6,617.0 402.0,617.0 402.4,617.0 402.8,617.0 403.2,617.0 403.6,617.0 404.1,617.0 404.5,617.0 404.9,617.0 405.3,617.0 405.7,617.0 406.1,617.1 406.6,617.1 407.0,617.1 407.4,617.1 407.8,617.1 408.2,617.1 408.7,617.1 409.1,617.1 409.5,617.1 409.9,617.1 410.3,617.1 410.7,617.1 411.2,617.1 411.6,617.1 412.0,617.1 412.4,617.1 412.8,617.1 413.2,617.1 413.7,617.1 414.1,617.1 414.5,617.1 414.9,617.1 415.3,617.1 415.8,617.1 416.2,617.1 416.6,617.1 417.0,617.1 417.4,617.1 417.8,617.1 418.3,617.1 418.7,617.1 419.1,617.1 419.5,617.1 419.9,617.1 420.4,617.1 420.8,617.1 421.2,617.1 421.6,617.1 422.0,617.1 422.4,617.1 422.9,617.1 423.3,617.1 423.7,617.1 424.1,617.1 424.5,617.1 424.9,617.1 425.4,617.1 425.8,617.1 426.2,617.1 426.6,617.1 427.0,617.1 427.5,617.1 427.9,617.1 428.3,617.1 428.7,617.1 429.1,617.1 429.5,617.1 430.0,617.1 430.4,617.1 430.8,617.1 431.2,617.1 431.6,617.1 432.1,617.1 432.5,617.1 432.9,617.1 433.3,617.1 433.7,617.1 434.1,617.1 434.6,617.1 435.0,617.2 435.4,617.2 435.8,617.2 436.2,617.2 436.7,617.2 437.1,617.2 437.5,617.2 437.9,617.2 438.3,617.2 438.7,617.2 439.2,617.2 439.6,617.2 440.0,617.2 440.4,617.2 440.8,617.2 441.2,617.2 441.7,617.2 442.1,617.2 442.5,617.2 442.9,617.2 443.3,617.2 443.8,617.2 444.2,617.2 444.6,617.2 445.0,617.2 445.4,617.2 445.8,617.2 446.3,617.2 446.7,617.2 447.1,617.2 447.5,617.2 447.9,617.2 448.4,617.2 448.8,617.2 449.2,617.2 449.6,617.2 450.0,617.2 450.4,617.2 450.9,617.2 451.3,617.2 451.7,617.2 452.1,617.2 452.5,617.2 452.9,617.2 453.4,617.2 453.8,617.2 454.2,617.2 454.6,617.2 455.0,617.2 455.5,617.2 455.9,617.2 456.3,617.2 456.7,617.2 457.1,617.2 457.5,617.2 458.0,617.2 458.4,617.2 458.8,617.2 459.2,617.2 459.6,617.2 460.1,617.2 460.5,617.2 460.9,617.2 461.3,617.2 461.7,617.2 462.1,617.2 462.6,617.2 463.0,617.2 463.4,617.2 463.8,617.2 464.2,617.2 464.6,617.2 465.1,617.2 465.5,617.2 465.9,617.2 466.3,617.2 466.7,617.2 467.2,617.2 467.6,617.2 468.0,617.2 468.4,617.2 468.8,617.2 469.2,617.2 469.7,617.2 470.1,617.2 470.5,617.2 470.9,617.2 471.3,617.2 471.7,617.2 472.2,617.2 472.6,617.2 473.0,617.2 473.4,617.2 473.8,617.2 474.3,617.2 474.7,617.2 475.1,617.2 475.5,617.2 475.9,617.2 476.3,617.2 476.8,617.3 477.2,617.3 477.6,617.3 478.0,617.3 478.4,617.3 478.9,617.3 479.3,617.3 479.7,617.3 480.1,617.3 480.5,617.3 480.9,617.3 481.4,617.3 481.8,617.3 482.2,617.3 482.6,617.3 483.0,617.3 483.4,617.3 483.9,617.3 484.3,617.3 484.7,617.3 485.1,617.3 485.5,617.3 486.0,617.3 486.4,617.3 486.8,617.3 487.2,617.3 487.6,617.3 488.0,617.3 488.5,617.3 488.9,617.3 489.3,617.3" fill="none" stroke="#141414" stroke-width="2.75" stroke-linejoin="round" stroke-linecap="round" clip-path="url(#cBL)"/>
<path d="M99.3,483.6 99.6,483.8 99.9,483.9 100.1,484.1 100.4,484.2 100.7,484.4 101.0,484.6 101.2,484.7 101.5,484.9 101.8,485.0 102.1,485.2 102.4,485.4 102.6,485.5 102.9,485.7 103.2,485.8 103.5,486.0 103.8,486.2 104.0,486.3 104.3,486.5 104.6,486.7 104.9,486.8 105.1,487.0 105.4,487.1 105.7,487.3 106.0,487.5 106.3,487.6 106.5,487.8 106.8,487.9 107.1,488.1 107.4,488.3 107.7,488.4 107.9,488.6 108.2,488.7 108.5,488.9 108.8,489.1 109.0,489.2 109.3,489.4 109.6,489.5 109.9,489.7 110.2,489.9 110.4,490.0 110.7,490.2 111.0,490.3 111.3,490.5 111.6,490.7 111.8,490.8 112.1,491.0 112.4,491.2 112.7,491.3 113.0,491.5 113.2,491.6 113.5,491.8 113.8,492.0 114.1,492.1 114.3,492.3 114.6,492.4 114.9,492.6 115.2,492.8 115.5,492.9 115.7,493.1 116.0,493.2 116.3,493.4 116.6,493.6 116.8,493.7 117.1,493.9 117.4,494.0 117.7,494.2 118.0,494.4 118.2,494.5 118.5,494.7 118.8,494.9 119.1,495.0 119.4,495.2 119.6,495.3 119.9,495.5 120.2,495.7 120.5,495.8 120.8,496.0 121.0,496.1 121.3,496.3 121.6,496.5 121.9,496.6 122.1,496.8 122.4,496.9 122.7,497.1 123.0,497.3 123.3,497.4 123.5,497.6 123.8,497.7 124.1,497.9 124.4,498.1 124.7,498.2 124.9,498.4 125.2,498.6 125.5,498.7 125.8,498.9 126.0,499.0 126.3,499.2 126.6,499.4 126.9,499.5 127.2,499.7 127.4,499.8 127.7,500.0 128.0,500.2 128.3,500.3 128.6,500.5 128.8,500.6 129.1,500.8 129.4,501.0 129.7,501.1 129.9,501.3 130.2,501.5 130.5,501.6 130.8,501.8 131.1,501.9 131.3,502.1 131.6,502.3 131.9,502.4 132.2,502.6 132.4,502.7 132.7,502.9 133.0,503.1 133.3,503.2 133.6,503.4 133.8,503.5 134.1,503.7 134.4,503.9 134.7,504.0 135.0,504.2 135.2,504.4 135.5,504.5 135.8,504.7 136.1,504.8 136.3,505.0 136.6,505.2 136.9,505.3 137.2,505.5 137.5,505.6 137.7,505.8 138.0,506.0 138.3,506.1 138.6,506.3 138.9,506.5 139.1,506.6 139.4,506.8 139.7,506.9 140.0,507.1 140.2,507.3 140.5,507.4 140.8,507.6 141.1,507.7 141.4,507.9 141.6,508.1 141.9,508.2 142.2,508.4 142.5,508.6 142.8,508.7 143.0,508.9 143.3,509.0 143.6,509.2 143.9,509.4 144.2,509.5 144.4,509.7 144.7,509.9 145.0,510.0 145.3,510.2 145.5,510.3 145.8,510.5 146.1,510.7 146.4,510.8 146.7,511.0 146.9,511.1 147.2,511.3 147.5,511.5 147.8,511.6 148.1,511.8 148.3,512.0 148.6,512.1 148.9,512.3 149.2,512.4 149.4,512.6 149.7,512.8 150.0,512.9 150.3,513.1 150.6,513.3 150.8,513.4 151.1,513.6 151.4,513.7 151.7,513.9 151.9,514.1 152.2,514.2 152.5,514.4 152.8,514.6 153.1,514.7 153.3,514.9 153.6,515.0 153.9,515.2 154.2,515.4 154.5,515.5 154.7,515.7 155.0,515.9 155.3,516.0 155.6,516.2 155.8,516.4 156.1,516.5 156.4,516.7 156.7,516.8 157.0,517.0 157.2,517.2 157.5,517.3 157.8,517.5 158.1,517.7 158.4,517.8 158.6,518.0 158.9,518.1 159.2,518.3 159.5,518.5 159.8,518.6 160.0,518.8 160.3,519.0 160.6,519.1 160.9,519.3 161.1,519.5 161.4,519.6 161.7,519.8 162.0,520.0 162.3,520.1 162.5,520.3 162.8,520.4 163.1,520.6 163.4,520.8 163.6,520.9 163.9,521.1 164.2,521.3 164.5,521.4 164.8,521.6 165.0,521.8 165.3,521.9 165.6,522.1 165.9,522.3 166.2,522.4 166.4,522.6 166.7,522.7 167.0,522.9 167.3,523.1 167.6,523.2 167.8,523.4 168.1,523.6 168.4,523.7 168.7,523.9 168.9,524.1 169.2,524.2 169.5,524.4 169.8,524.6 170.1,524.7 170.3,524.9 170.6,525.1 170.9,525.2 171.2,525.4 171.4,525.6 171.7,525.7 172.0,525.9 172.3,526.1 172.5,526.2 172.8,526.4 173.0,526.5 173.3,526.6 173.5,526.8 173.8,526.9 174.0,527.1 174.3,527.2 174.5,527.4 174.8,527.5 175.0,527.7 175.3,527.8 175.5,528.0 175.8,528.1 176.0,528.3 176.3,528.4 176.5,528.6 176.8,528.7 177.0,528.9 177.3,529.0 177.6,529.2 177.8,529.3 178.1,529.5 178.3,529.6 178.6,529.8 178.8,530.0 179.1,530.1 179.3,530.3 179.6,530.4 179.8,530.6 180.1,530.7 180.3,530.9 180.6,531.0 180.8,531.2 181.1,531.3 181.3,531.5 181.6,531.6 181.8,531.8 182.1,531.9 182.3,532.1 182.6,532.2 182.8,532.4 183.1,532.5 183.3,532.7 183.6,532.8 183.8,533.0 184.1,533.1 184.3,533.3 184.6,533.4 184.8,533.6 185.1,533.7 185.3,533.9 185.6,534.0 185.8,534.2 186.1,534.3 186.3,534.5 186.6,534.7 186.8,534.8 187.1,535.0 187.3,535.1 187.6,535.3 187.8,535.4 188.1,535.6 188.3,535.7 188.6,535.9 188.8,536.0 189.1,536.2 189.3,536.3 189.6,536.5 189.8,536.6 190.1,536.8 190.3,536.9 190.6,537.1 190.8,537.3 191.1,537.4 191.3,537.6 191.6,537.7 191.8,537.9 192.1,538.0 192.3,538.2 192.6,538.3 192.8,538.5 193.1,538.6 193.3,538.8 193.6,539.0 193.8,539.1 194.1,539.3 194.3,539.4 194.6,539.6 194.9,539.7 195.1,539.9 195.4,540.0 195.6,540.2 195.9,540.3 196.1,540.5 196.4,540.7 196.6,540.8 196.9,541.0 197.1,541.1 197.4,541.3 197.6,541.4 197.9,541.6 198.1,541.8 198.4,541.9 198.6,542.1 198.9,542.2 199.1,542.4 199.4,542.5 199.6,542.7 199.9,542.8 200.1,543.0 200.4,543.2 200.6,543.3 200.9,543.5 201.1,543.6 201.4,543.8 201.6,543.9 201.9,544.1 202.1,544.3 202.4,544.4 202.6,544.6 202.9,544.7 203.1,544.9 203.4,545.1 203.6,545.2 203.9,545.4 204.1,545.5 204.4,545.7 204.6,545.8 204.9,546.0 205.1,546.2 205.4,546.3 205.6,546.5 205.9,546.6 206.1,546.8 206.4,547.0 206.6,547.1 206.9,547.3 207.1,547.4 207.4,547.6 207.6,547.8 207.9,547.9 208.1,548.1 208.4,548.2 208.6,548.4 208.9,548.5 209.1,548.7 209.4,548.9 209.6,549.0 209.9,549.2 210.1,549.4 210.4,549.5 210.6,549.7 210.9,549.8 211.1,550.0 211.4,550.2 211.6,550.3 211.9,550.5 212.1,550.6 212.4,550.8 212.7,551.0 212.9,551.1 213.2,551.3 213.4,551.4 213.7,551.6 213.9,551.8 214.2,551.9 214.4,552.1 214.7,552.3 214.9,552.4 215.2,552.6 215.4,552.7 215.7,552.9 215.9,553.1 216.2,553.2 216.4,553.4 216.7,553.6 216.9,553.7 217.2,553.9 217.4,554.0 217.7,554.2 217.9,554.4 218.2,554.5 218.4,554.7 218.7,554.9 218.9,555.0 219.2,555.2 219.4,555.4 219.7,555.5 219.9,555.7 220.2,555.8 220.4,556.0 220.7,556.2 220.9,556.3 221.2,556.5 221.4,556.7 221.7,556.8 221.9,557.0 222.2,557.2 222.4,557.3 222.7,557.5 222.9,557.6 223.2,557.8 223.4,558.0 223.7,558.1 223.9,558.3 224.2,558.5 224.4,558.6 224.7,558.8 224.9,559.0 225.2,559.1 225.4,559.3 225.7,559.5 225.9,559.6 226.2,559.8 226.4,560.0 226.7,560.1 226.9,560.3 227.2,560.5 227.4,560.6 227.7,560.8 227.9,561.0 228.2,561.1 228.4,561.3 228.7,561.5 228.9,561.6 229.2,561.8 229.4,561.9 229.7,562.1 229.9,562.3 230.2,562.4 230.5,562.6 230.7,562.8 231.0,562.9 231.2,563.1 231.5,563.3 231.7,563.4 232.0,563.6 232.2,563.8 232.5,563.9 232.7,564.1 233.0,564.3 233.2,564.4 233.5,564.6 233.7,564.8 234.0,564.9 234.2,565.1 234.5,565.3 234.7,565.4 235.0,565.6 235.2,565.8 235.5,565.9 235.7,566.1 236.0,566.2 236.2,566.4 236.5,566.6 236.7,566.7 237.0,566.9 237.2,567.1 237.5,567.2 237.7,567.4 238.0,567.6 238.2,567.7 238.5,567.9 238.7,568.0 239.0,568.2 239.2,568.4 239.5,568.5 239.7,568.7 240.0,568.9 240.2,569.0 240.5,569.2 240.7,569.3 241.0,569.5 241.2,569.7 241.5,569.8 241.7,570.0 242.0,570.1 242.2,570.3 242.5,570.5 242.7,570.6 243.0,570.8 243.2,570.9 243.5,571.1 243.7,571.2 244.0,571.4 244.2,571.5 244.5,571.7 244.7,571.9 245.0,572.0 245.2,572.2 245.5,572.3 245.7,572.5 246.0,572.6 246.3,572.8 246.6,573.0 246.9,573.1 247.1,573.3 247.4,573.4 247.7,573.6 248.0,573.7 248.3,573.9 248.5,574.1 248.8,574.2 249.1,574.4 249.4,574.5 249.6,574.7 249.9,574.8 250.2,574.9 250.5,575.1 250.8,575.2 251.0,575.3 251.3,575.5 251.6,575.6 251.9,575.7 252.2,575.9 252.5,576.0 252.8,576.1 253.1,576.2 253.4,576.3 253.7,576.5 254.0,576.6 254.4,576.7 254.7,576.7 255.0,576.8 255.4,576.9 255.7,577.0 256.1,577.0 256.5,577.0 256.9,577.0 257.3,577.0 257.6,577.0 258.0,576.9 258.3,576.8 258.6,576.7 258.9,576.5 259.2,576.4 259.4,576.2 259.6,576.0 259.9,575.8 260.1,575.6 260.3,575.3 260.5,575.1 260.6,574.8 260.8,574.6 261.0,574.3 261.1,574.0 261.3,573.7 261.4,573.4 261.5,573.1 261.7,572.7 261.8,572.4 261.9,572.1 262.0,571.7 262.1,571.3 262.2,570.9 262.3,570.6 262.4,570.3 262.5,569.9 262.6,569.6 262.7,569.2 262.7,568.8 262.8,568.3 262.9,567.9 263.0,567.4 263.1,566.9 263.1,566.5 263.2,566.2 263.2,565.8 263.3,565.4 263.4,565.0 263.4,564.6 263.5,564.1 263.5,563.7 263.6,563.2 263.6,562.7 263.7,562.2 263.7,561.7 263.8,561.1 263.9,560.6 263.9,560.0 264.0,559.3 264.0,558.7 264.1,558.0 264.1,557.3 264.2,556.6 264.2,555.9 264.3,555.5 264.3,555.1 264.3,554.7 264.4,554.3 264.4,553.9 264.4,553.4 264.4,553.0 264.5,552.6 264.5,552.1 264.5,551.7 264.5,551.2 264.6,550.7 264.6,550.2 264.6,549.8 264.7,549.3 264.7,548.7 264.7,548.2 264.7,547.7 264.8,547.2 264.8,546.6 264.8,546.1 264.9,545.5 264.9,544.9 264.9,544.3 264.9,543.7 265.0,543.1 265.0,542.5 265.0,541.9 265.1,541.3 265.1,540.7 265.1,540.0 265.1,539.4 265.2,538.7 265.2,538.0 265.2,537.3 265.2,536.7 265.3,536.0 265.3,535.3 265.3,534.6 265.4,533.9 265.4,533.1 265.4,532.4 265.4,531.7 265.5,531.0 265.5,530.2 265.5,529.5 265.6,528.7 265.6,528.0 265.6,527.2 265.6,526.5 265.7,525.7 265.7,525.0 265.7,524.2 265.7,523.5 265.8,522.7 265.8,522.0 265.8,521.2 265.9,520.5 265.9,519.7 265.9,519.0 265.9,518.2 266.0,517.5 266.0,516.8 266.0,516.0 266.1,515.3 266.1,514.6 266.1,513.9 266.1,513.2 266.2,512.5 266.2,511.8 266.2,511.1 266.2,510.5 266.3,509.8 266.3,509.1 266.3,508.5 266.4,507.9 266.4,507.2 266.4,506.6 266.4,506.0 266.5,505.4 266.5,504.8 266.5,504.2 266.6,503.6 266.6,503.0 266.6,502.5 266.6,501.9 266.7,501.4 266.7,500.9 266.7,500.3 266.7,499.8 266.8,499.3 266.8,498.8 266.8,498.3 266.9,497.9 266.9,497.4 266.9,496.9 266.9,496.5 267.0,496.0 267.0,495.6 267.0,495.2 267.1,494.7 267.1,494.3 267.1,493.9 267.1,493.5 267.2,493.1 267.2,492.8 267.2,492.4 267.3,491.7 267.3,491.0 267.4,490.3 267.4,489.6 267.5,489.0 267.6,488.4 267.6,487.8 267.7,487.3 267.7,486.8 267.8,486.2 267.8,485.7 267.9,485.3 267.9,484.8 268.0,484.4 268.1,483.9 268.1,483.5 268.2,483.1 268.2,482.8 268.3,482.4 268.3,482.0 268.4,481.5 268.5,481.0 268.6,480.6 268.7,480.2 268.8,479.7 268.8,479.3 268.9,479.0 269.0,478.6 269.1,478.3 269.2,478.0 269.3,477.6 269.4,477.2 269.5,476.8 269.6,476.5 269.7,476.2 269.8,475.9 270.0,475.6 270.1,475.2 270.3,474.9 270.4,474.7 270.6,474.4 270.7,474.1 270.9,473.9 271.1,473.6 271.3,473.4 271.5,473.2 271.7,473.0 271.9,472.8 272.2,472.6 272.5,472.4 272.7,472.3 273.0,472.2 273.4,472.1 273.7,472.0 274.1,472.0 274.5,472.0 274.9,472.0 275.3,472.0 275.7,472.1 276.0,472.2 276.3,472.3 276.7,472.4 277.0,472.5 277.3,472.6 277.6,472.7 277.9,472.8 278.2,472.9 278.5,473.0 278.8,473.2 279.0,473.3 279.3,473.4 279.6,473.6 279.9,473.7 280.1,473.9 280.4,474.0 280.7,474.2 281.0,474.3 281.3,474.5 281.5,474.7 281.8,474.8 282.1,475.0 282.3,475.1 282.6,475.3 282.8,475.4 283.1,475.6 283.3,475.8 283.6,475.9 283.8,476.1 284.1,476.2 284.3,476.4 284.6,476.6 284.8,476.7 285.1,476.9 285.3,477.1 285.6,477.3 285.8,477.4 286.1,477.6 286.3,477.8 286.6,478.0 286.8,478.1 287.1,478.3 287.3,478.5 287.6,478.7 287.8,478.8 288.1,479.0 288.3,479.2 288.6,479.4 288.8,479.6 289.1,479.8 289.3,479.9 289.6,480.1 289.8,480.3 290.1,480.5 290.3,480.7 290.6,480.9 290.8,481.1 291.1,481.2 291.3,481.4 291.6,481.6 291.8,481.8 292.1,482.0 292.4,482.2 292.6,482.4 292.9,482.6 293.1,482.8 293.4,483.0 293.6,483.2 293.9,483.3 294.1,483.5 294.4,483.7 294.6,483.9 294.9,484.1 295.1,484.3 295.4,484.5 295.6,484.7 295.9,484.9 296.1,485.1 296.4,485.3 296.6,485.5 296.9,485.7 297.1,485.9 297.4,486.1 297.6,486.3 297.9,486.5 298.1,486.7 298.4,486.9 298.6,487.1 298.9,487.3 299.1,487.5 299.4,487.7 299.6,487.9 299.9,488.1 300.1,488.3 300.3,488.4 300.6,488.6 300.8,488.8 301.0,489.0 301.2,489.2 301.5,489.3 301.7,489.5 301.9,489.7 302.1,489.9 302.4,490.0 302.6,490.2 302.8,490.4 303.0,490.6 303.2,490.8 303.5,490.9 303.7,491.1 303.9,491.3 304.1,491.5 304.4,491.6 304.6,491.8 304.8,492.0 305.0,492.2 305.2,492.4 305.5,492.5 305.7,492.7 305.9,492.9 306.1,493.1 306.4,493.3 306.6,493.4 306.8,493.6 307.0,493.8 307.3,494.0 307.5,494.1 307.7,494.3 307.9,494.5 308.1,494.7 308.4,494.9 308.6,495.0 308.8,495.2 309.0,495.4 309.3,495.6 309.5,495.8 309.7,495.9 309.9,496.1 310.2,496.3 310.4,496.5 310.6,496.7 310.8,496.8 311.0,497.0 311.3,497.2 311.5,497.4 311.7,497.5 311.9,497.7 312.2,497.9 312.4,498.1 312.6,498.3 312.8,498.4 313.0,498.6 313.3,498.8 313.5,499.0 313.7,499.1 313.9,499.3 314.2,499.5 314.4,499.7 314.6,499.9 314.8,500.0 315.1,500.2 315.3,500.4 315.5,500.6 315.7,500.8 315.9,500.9 316.2,501.1 316.4,501.3 316.6,501.5 316.8,501.6 317.1,501.8 317.3,502.0 317.6,502.2 317.8,502.4 318.1,502.6 318.3,502.8 318.6,503.0 318.8,503.2 319.1,503.4 319.3,503.6 319.6,503.8 319.8,504.0 320.1,504.2 320.3,504.4 320.6,504.6 320.8,504.8 321.1,505.0 321.3,505.2 321.6,505.4 321.9,505.6 322.1,505.8 322.4,506.0 322.6,506.2 322.9,506.4 323.1,506.6 323.4,506.8 323.6,507.0 323.9,507.2 324.1,507.4 324.4,507.6 324.6,507.8 324.9,508.0 325.1,508.1 325.4,508.3 325.6,508.5 325.9,508.7 326.1,508.9 326.4,509.1 326.6,509.3 326.9,509.5 327.1,509.7 327.4,509.9 327.6,510.1 327.9,510.3 328.1,510.5 328.4,510.7 328.6,510.9 328.9,511.1 329.1,511.2 329.4,511.4 329.6,511.6 329.9,511.8 330.1,512.0 330.4,512.2 330.6,512.4 330.9,512.6 331.1,512.8 331.4,513.0 331.6,513.2 331.9,513.3 332.1,513.5 332.4,513.7 332.6,513.9 332.9,514.1 333.1,514.3 333.4,514.5 333.6,514.7 333.9,514.9 334.1,515.1 334.4,515.2 334.6,515.4 334.9,515.6 335.1,515.8 335.4,516.0 335.6,516.2 335.9,516.4 336.1,516.6 336.4,516.7 336.6,516.9 336.9,517.1 337.1,517.3 337.4,517.5 337.6,517.7 337.9,517.9 338.1,518.0 338.4,518.2 338.6,518.4 338.9,518.6 339.1,518.8 339.4,519.0 339.7,519.1 339.9,519.3 340.2,519.5 340.4,519.7 340.7,519.9 340.9,520.1 341.2,520.2 341.4,520.4 341.7,520.6 341.9,520.8 342.2,521.0 342.4,521.2 342.7,521.3 342.9,521.5 343.2,521.7 343.4,521.9 343.7,522.1 343.9,522.2 344.2,522.4 344.4,522.6 344.7,522.8 344.9,523.0 345.2,523.1 345.4,523.3 345.7,523.5 345.9,523.7 346.2,523.9 346.4,524.0 346.7,524.2 346.9,524.4 347.2,524.6 347.4,524.7 347.7,524.9 347.9,525.1 348.2,525.3 348.4,525.5 348.7,525.6 348.9,525.8 349.2,526.0 349.4,526.2 349.7,526.3 349.9,526.5 350.2,526.7 350.4,526.9 350.7,527.0 350.9,527.2 351.2,527.4 351.4,527.6 351.7,527.7 351.9,527.9 352.2,528.1 352.4,528.2 352.7,528.4 352.9,528.6 353.2,528.8 353.4,528.9 353.7,529.1 353.9,529.3 354.2,529.4 354.4,529.6 354.7,529.8 354.9,530.0 355.2,530.1 355.4,530.3 355.7,530.5 355.9,530.6 356.2,530.8 356.4,531.0 356.7,531.1 357.0,531.3 357.2,531.5 357.5,531.7 357.7,531.8 358.0,532.0 358.2,532.2 358.5,532.3 358.7,532.5 359.0,532.7 359.2,532.8 359.5,533.0 359.7,533.2 360.0,533.3 360.2,533.5 360.5,533.7 360.7,533.8 361.0,534.0 361.2,534.1 361.5,534.3 361.7,534.5 362.0,534.6 362.2,534.8 362.5,535.0 362.7,535.1 363.0,535.3 363.2,535.5 363.5,535.6 363.7,535.8 364.0,535.9 364.2,536.1 364.5,536.3 364.7,536.4 365.0,536.6 365.2,536.8 365.5,536.9 365.7,537.1 366.0,537.2 366.2,537.4 366.5,537.6 366.7,537.7 367.0,537.9 367.2,538.0 367.5,538.2 367.7,538.4 368.0,538.5 368.2,538.7 368.5,538.8 368.7,539.0 369.0,539.1 369.2,539.3 369.5,539.5 369.7,539.6 370.0,539.8 370.2,539.9 370.5,540.1 370.7,540.2 371.0,540.4 371.2,540.6 371.5,540.7 371.7,540.9 372.0,541.0 372.2,541.2 372.5,541.3 372.7,541.5 373.0,541.6 373.2,541.8 373.5,541.9 373.7,542.1 374.0,542.3 374.2,542.4 374.5,542.6 374.8,542.7 375.0,542.9 375.3,543.0 375.5,543.2 375.8,543.3 376.0,543.5 376.3,543.6 376.5,543.8 376.8,543.9 377.0,544.1 377.3,544.2 377.5,544.4 377.8,544.5 378.0,544.7 378.3,544.8 378.5,545.0 378.8,545.1 379.0,545.3 379.3,545.5 379.6,545.6 379.9,545.8 380.2,546.0 380.4,546.1 380.7,546.3 381.0,546.4 381.3,546.6 381.5,546.8 381.8,546.9 382.1,547.1 382.4,547.3 382.7,547.4 382.9,547.6 383.2,547.7 383.5,547.9 383.8,548.1 384.1,548.2 384.3,548.4 384.6,548.6 384.9,548.7 385.2,548.9 385.4,549.0 385.7,549.2 386.0,549.4 386.3,549.5 386.6,549.7 386.8,549.8 387.1,550.0 387.4,550.1 387.7,550.3 388.0,550.5 388.2,550.6 388.5,550.8 388.8,550.9 389.1,551.1 389.3,551.2 389.6,551.4 389.9,551.6 390.2,551.7 390.5,551.9 390.7,552.0 391.0,552.2 391.3,552.3 391.6,552.5 391.9,552.6 392.1,552.8 392.4,552.9 392.7,553.1 393.0,553.2 393.2,553.4 393.5,553.6 393.8,553.7 394.1,553.9 394.4,554.0 394.6,554.2 394.9,554.3 395.2,554.5 395.5,554.6 395.8,554.8 396.0,554.9 396.3,555.1 396.6,555.2 396.9,555.4 397.1,555.5 397.4,555.7 397.7,555.8 398.0,556.0 398.3,556.1 398.5,556.3 398.8,556.4 399.1,556.5 399.4,556.7 399.7,556.8 399.9,557.0 400.2,557.1 400.5,557.3 400.8,557.4 401.0,557.6 401.3,557.7 401.6,557.9 401.9,558.0 402.2,558.2 402.4,558.3 402.7,558.4 403.0,558.6 403.3,558.7 403.6,558.9 403.8,559.0 404.1,559.2 404.4,559.3 404.7,559.4 404.9,559.6 405.2,559.7 405.5,559.9 405.8,560.0 406.1,560.2 406.3,560.3 406.6,560.4 406.9,560.6 407.2,560.7 407.5,560.9 407.7,561.0 408.0,561.1 408.3,561.3 408.6,561.4 408.8,561.6 409.1,561.7 409.4,561.8 409.7,562.0 410.0,562.1 410.2,562.3 410.5,562.4 410.8,562.5 411.1,562.7 411.4,562.8 411.6,562.9 411.9,563.1 412.2,563.2 412.5,563.4 412.7,563.5 413.0,563.6 413.3,563.8 413.6,563.9 413.9,564.0 414.1,564.2 414.4,564.3 414.7,564.4 415.0,564.6 415.3,564.7 415.5,564.8 415.8,565.0 416.1,565.1 416.4,565.2 416.6,565.4 416.9,565.5 417.2,565.6 417.5,565.8 417.8,565.9 418.0,566.0 418.3,566.2 418.6,566.3 418.9,566.4 419.2,566.6 419.4,566.7 419.7,566.8 420.0,567.0 420.3,567.1 420.5,567.2 420.8,567.3 421.1,567.5 421.4,567.6 421.7,567.7 421.9,567.9 422.2,568.0 422.5,568.1 422.8,568.2 423.1,568.4 423.3,568.5 423.6,568.6 423.9,568.8 424.2,568.9 424.4,569.0 424.7,569.1 425.0,569.3 425.3,569.4 425.6,569.5 425.8,569.6 426.1,569.8 426.4,569.9 426.7,570.0 427.0,570.2 427.2,570.3 427.5,570.4 427.8,570.5 428.1,570.6 428.3,570.8 428.6,570.9 428.9,571.0 429.2,571.1 429.5,571.3 429.7,571.4 430.0,571.5 430.3,571.6 430.6,571.8 430.9,571.9 431.1,572.0 431.4,572.1 431.7,572.3 432.0,572.4 432.2,572.5 432.6,572.6 432.9,572.8 433.2,572.9 433.5,573.0 433.8,573.2 434.1,573.3 434.4,573.4 434.7,573.6 435.0,573.7 435.3,573.8 435.6,573.9 435.9,574.1 436.2,574.2 436.5,574.3 436.8,574.5 437.2,574.6 437.5,574.7 437.8,574.9 438.1,575.0 438.4,575.1 438.7,575.2 439.0,575.4 439.3,575.5 439.6,575.6 439.9,575.8 440.2,575.9 440.5,576.0 440.8,576.1 441.1,576.3 441.4,576.4 441.7,576.5 442.1,576.6 442.4,576.8 442.7,576.9 443.0,577.0 443.3,577.1 443.6,577.3 443.9,577.4 444.2,577.5 444.5,577.6 444.8,577.8 445.1,577.9 445.4,578.0 445.7,578.1 446.0,578.3 446.3,578.4 446.7,578.5 447.0,578.6 447.3,578.8 447.6,578.9 447.9,579.0 448.2,579.1 448.5,579.2 448.8,579.4 449.1,579.5 449.4,579.6 449.7,579.7 450.0,579.9 450.3,580.0 450.6,580.1 450.9,580.2 451.2,580.3 451.6,580.5 451.9,580.6 452.2,580.7 452.5,580.8 452.8,580.9 453.1,581.0 453.4,581.2 453.7,581.3 454.0,581.4 454.3,581.5 454.6,581.6 454.9,581.7 455.2,581.9 455.5,582.0 455.8,582.1 456.2,582.2 456.5,582.3 456.8,582.4 457.1,582.6 457.4,582.7 457.7,582.8 458.0,582.9 458.3,583.0 458.6,583.1 458.9,583.3 459.2,583.4 459.5,583.5 459.8,583.6 460.1,583.7 460.4,583.8 460.7,583.9 461.1,584.0 461.4,584.2 461.7,584.3 462.0,584.4 462.3,584.5 462.6,584.6 462.9,584.7 463.2,584.8 463.5,584.9 463.8,585.1 464.1,585.2 464.4,585.3 464.7,585.4 465.0,585.5 465.3,585.6 465.6,585.7 466.0,585.8 466.3,585.9 466.6,586.0 466.9,586.2 467.2,586.3 467.5,586.4 467.8,586.5 468.1,586.6 468.4,586.7 468.7,586.8 469.0,586.9 469.3,587.0 469.6,587.1 469.9,587.2 470.2,587.3 470.6,587.5 470.9,587.6 471.2,587.7 471.5,587.8 471.8,587.9 472.1,588.0 472.4,588.1 472.7,588.2 473.0,588.3 473.3,588.4 473.6,588.5 473.9,588.6 474.2,588.7 474.5,588.8 474.8,588.9 475.1,589.0 475.5,589.1 475.8,589.2 476.1,589.3 476.4,589.4 476.7,589.6 477.0,589.7 477.3,589.8 477.6,589.9 477.9,590.0 478.2,590.1 478.5,590.2 478.8,590.3 479.1,590.4 479.4,590.5 479.7,590.6 480.1,590.7 480.4,590.8 480.7,590.9 481.0,591.0 481.3,591.1 481.6,591.2 481.9,591.3 482.2,591.4 482.5,591.5 482.8,591.6 483.1,591.7 483.4,591.8 483.7,591.9 484.0,592.0 484.3,592.1 484.6,592.2 485.0,592.3 485.3,592.4 485.6,592.5 485.9,592.6 486.2,592.7 486.5,592.8 486.8,592.9 487.1,593.0 487.4,593.0 487.7,593.1 488.0,593.2 488.3,593.3 488.6,593.4 488.9,593.5 489.2,593.6 489.3,593.6" fill="none" stroke="#45c845" stroke-width="3.10" stroke-linejoin="round" stroke-linecap="round" clip-path="url(#cBL)"/>
<path d="M613.8,483.6 614.1,483.8 614.4,483.9 614.6,484.1 614.9,484.2 615.2,484.4 615.5,484.6 615.8,484.7 616.0,484.9 616.3,485.1 616.6,485.2 616.9,485.4 617.1,485.5 617.4,485.7 617.7,485.9 618.0,486.0 618.3,486.2 618.5,486.4 618.8,486.5 619.1,486.7 619.4,486.8 619.7,487.0 619.9,487.2 620.2,487.3 620.5,487.5 620.8,487.7 621.0,487.8 621.3,488.0 621.6,488.1 621.9,488.3 622.2,488.5 622.4,488.6 622.7,488.8 623.0,489.0 623.3,489.1 623.6,489.3 623.8,489.4 624.1,489.6 624.4,489.8 624.7,489.9 624.9,490.1 625.2,490.3 625.5,490.4 625.8,490.6 626.1,490.7 626.3,490.9 626.6,491.1 626.9,491.2 627.2,491.4 627.5,491.6 627.7,491.7 628.0,491.9 628.3,492.0 628.6,492.2 628.9,492.4 629.1,492.5 629.4,492.7 629.7,492.9 630.0,493.0 630.2,493.2 630.5,493.3 630.8,493.5 631.1,493.7 631.4,493.8 631.6,494.0 631.9,494.2 632.2,494.3 632.5,494.5 632.8,494.6 633.0,494.8 633.3,495.0 633.6,495.1 633.9,495.3 634.1,495.5 634.4,495.6 634.7,495.8 635.0,495.9 635.3,496.1 635.5,496.3 635.8,496.4 636.1,496.6 636.4,496.8 636.7,496.9 636.9,497.1 637.2,497.2 637.5,497.4 637.8,497.6 638.0,497.7 638.3,497.9 638.6,498.1 638.9,498.2 639.2,498.4 639.4,498.5 639.7,498.7 640.0,498.9 640.3,499.0 640.6,499.2 640.8,499.4 641.1,499.5 641.4,499.7 641.7,499.8 642.0,500.0 642.2,500.2 642.5,500.3 642.8,500.5 643.1,500.7 643.3,500.8 643.6,501.0 643.9,501.1 644.2,501.3 644.5,501.5 644.7,501.6 645.0,501.8 645.3,502.0 645.6,502.1 645.9,502.3 646.1,502.4 646.4,502.6 646.7,502.8 647.0,502.9 647.2,503.1 647.5,503.3 647.8,503.4 648.1,503.6 648.4,503.8 648.6,503.9 648.9,504.1 649.2,504.2 649.5,504.4 649.8,504.6 650.0,504.7 650.3,504.9 650.6,505.1 650.9,505.2 651.1,505.4 651.4,505.5 651.7,505.7 652.0,505.9 652.3,506.0 652.5,506.2 652.8,506.4 653.1,506.5 653.4,506.7 653.7,506.9 653.9,507.0 654.2,507.2 654.5,507.3 654.8,507.5 655.0,507.7 655.3,507.8 655.6,508.0 655.9,508.2 656.2,508.3 656.4,508.5 656.7,508.7 657.0,508.8 657.3,509.0 657.6,509.1 657.8,509.3 658.1,509.5 658.4,509.6 658.7,509.8 659.0,510.0 659.2,510.1 659.5,510.3 659.8,510.5 660.1,510.6 660.3,510.8 660.6,510.9 660.9,511.1 661.2,511.3 661.5,511.4 661.7,511.6 662.0,511.8 662.3,511.9 662.6,512.1 662.9,512.3 663.1,512.4 663.4,512.6 663.7,512.8 664.0,512.9 664.2,513.1 664.5,513.2 664.8,513.4 665.1,513.6 665.4,513.7 665.6,513.9 665.9,514.1 666.2,514.2 666.5,514.4 666.8,514.6 667.0,514.7 667.3,514.9 667.6,515.1 667.9,515.2 668.1,515.4 668.4,515.6 668.7,515.7 669.0,515.9 669.3,516.0 669.5,516.2 669.8,516.4 670.1,516.5 670.4,516.7 670.7,516.9 670.9,517.0 671.2,517.2 671.5,517.4 671.8,517.5 672.1,517.7 672.3,517.9 672.6,518.0 672.9,518.2 673.2,518.4 673.4,518.5 673.7,518.7 674.0,518.8 674.2,519.0 674.5,519.1 674.7,519.3 675.0,519.4 675.2,519.6 675.5,519.7 675.7,519.9 676.0,520.0 676.2,520.2 676.5,520.3 676.7,520.5 677.0,520.6 677.2,520.8 677.5,520.9 677.7,521.1 678.0,521.2 678.2,521.4 678.5,521.5 678.7,521.7 679.0,521.8 679.2,522.0 679.5,522.1 679.7,522.3 680.0,522.4 680.2,522.6 680.5,522.7 680.7,522.9 681.0,523.0 681.2,523.2 681.5,523.3 681.8,523.5 682.0,523.6 682.3,523.8 682.5,523.9 682.8,524.1 683.0,524.2 683.3,524.4 683.5,524.5 683.8,524.7 684.0,524.8 684.3,525.0 684.5,525.1 684.8,525.3 685.0,525.4 685.3,525.6 685.5,525.8 685.8,525.9 686.0,526.1 686.3,526.2 686.5,526.4 686.8,526.5 687.0,526.7 687.3,526.8 687.5,527.0 687.8,527.1 688.0,527.3 688.3,527.4 688.5,527.6 688.8,527.7 689.0,527.9 689.3,528.0 689.5,528.2 689.8,528.3 690.0,528.5 690.3,528.6 690.5,528.8 690.8,528.9 691.0,529.1 691.3,529.2 691.5,529.4 691.8,529.6 692.0,529.7 692.3,529.9 692.5,530.0 692.8,530.2 693.0,530.3 693.3,530.5 693.5,530.6 693.8,530.8 694.0,530.9 694.3,531.1 694.5,531.2 694.8,531.4 695.0,531.5 695.3,531.7 695.5,531.9 695.8,532.0 696.0,532.2 696.3,532.3 696.6,532.5 696.8,532.6 697.1,532.8 697.3,532.9 697.6,533.1 697.8,533.2 698.1,533.4 698.3,533.6 698.6,533.7 698.8,533.9 699.1,534.0 699.3,534.2 699.6,534.3 699.8,534.5 700.1,534.6 700.3,534.8 700.6,534.9 700.8,535.1 701.1,535.3 701.3,535.4 701.6,535.6 701.8,535.7 702.1,535.9 702.3,536.0 702.6,536.2 702.8,536.4 703.1,536.5 703.3,536.7 703.6,536.8 703.8,537.0 704.1,537.1 704.3,537.3 704.6,537.4 704.8,537.6 705.1,537.8 705.3,537.9 705.6,538.1 705.8,538.2 706.1,538.4 706.3,538.5 706.6,538.7 706.8,538.9 707.1,539.0 707.3,539.2 707.6,539.3 707.8,539.5 708.1,539.7 708.3,539.8 708.6,540.0 708.8,540.1 709.1,540.3 709.3,540.4 709.6,540.6 709.8,540.8 710.1,540.9 710.3,541.1 710.6,541.2 710.8,541.4 711.1,541.6 711.3,541.7 711.6,541.9 711.9,542.0 712.1,542.2 712.4,542.4 712.6,542.5 712.9,542.7 713.1,542.8 713.4,543.0 713.6,543.2 713.9,543.3 714.1,543.5 714.4,543.6 714.6,543.8 714.9,544.0 715.1,544.1 715.4,544.3 715.6,544.4 715.9,544.6 716.1,544.8 716.4,544.9 716.6,545.1 716.9,545.3 717.1,545.4 717.4,545.6 717.6,545.7 717.9,545.9 718.1,546.1 718.4,546.2 718.6,546.4 718.9,546.6 719.1,546.7 719.4,546.9 719.6,547.0 719.9,547.2 720.1,547.4 720.4,547.5 720.6,547.7 720.9,547.9 721.1,548.0 721.4,548.2 721.6,548.4 721.9,548.5 722.1,548.7 722.4,548.9 722.6,549.0 722.9,549.2 723.1,549.3 723.4,549.5 723.6,549.7 723.9,549.8 724.1,550.0 724.4,550.2 724.6,550.3 724.9,550.5 725.1,550.7 725.4,550.8 725.6,551.0 725.9,551.2 726.1,551.3 726.4,551.5 726.7,551.7 726.9,551.8 727.2,552.0 727.4,552.2 727.7,552.3 727.9,552.5 728.2,552.7 728.4,552.8 728.7,553.0 728.9,553.2 729.2,553.4 729.4,553.5 729.7,553.7 729.9,553.9 730.2,554.0 730.4,554.2 730.7,554.4 730.9,554.5 731.2,554.7 731.4,554.9 731.7,555.0 731.9,555.2 732.2,555.4 732.4,555.6 732.7,555.7 732.9,555.9 733.2,556.1 733.4,556.2 733.7,556.4 733.9,556.6 734.2,556.8 734.4,556.9 734.7,557.1 734.9,557.3 735.2,557.4 735.4,557.6 735.7,557.8 735.9,558.0 736.2,558.1 736.4,558.3 736.7,558.5 736.9,558.7 737.2,558.8 737.4,559.0 737.7,559.2 737.9,559.3 738.2,559.5 738.4,559.7 738.7,559.9 738.9,560.0 739.2,560.2 739.4,560.4 739.7,560.6 739.9,560.7 740.2,560.9 740.4,561.1 740.7,561.3 740.9,561.5 741.2,561.6 741.5,561.8 741.7,562.0 742.0,562.2 742.2,562.3 742.5,562.5 742.7,562.7 743.0,562.9 743.2,563.0 743.5,563.2 743.7,563.4 744.0,563.6 744.2,563.8 744.5,563.9 744.7,564.1 745.0,564.3 745.2,564.5 745.5,564.7 745.7,564.8 746.0,565.0 746.2,565.2 746.5,565.4 746.7,565.6 747.0,565.7 747.2,565.9 747.5,566.1 747.7,566.3 748.0,566.5 748.2,566.6 748.5,566.8 748.7,567.0 749.0,567.2 749.2,567.4 749.5,567.6 749.7,567.7 750.0,567.9 750.2,568.1 750.5,568.3 750.7,568.5 751.0,568.7 751.2,568.8 751.5,569.0 751.7,569.2 752.0,569.4 752.2,569.6 752.5,569.8 752.7,569.9 753.0,570.1 753.2,570.3 753.5,570.5 753.7,570.7 754.0,570.9 754.2,571.1 754.5,571.2 754.7,571.4 755.0,571.6 755.2,571.8 755.5,572.0 755.7,572.2 756.0,572.4 756.3,572.6 756.5,572.7 756.8,572.9 757.0,573.1 757.3,573.3 757.5,573.5 757.8,573.7 758.0,573.9 758.3,574.1 758.5,574.3 758.8,574.5 759.0,574.6 759.3,574.8 759.5,575.0 759.8,575.2 760.0,575.4 760.3,575.6 760.5,575.8 760.8,576.0 761.0,576.2 761.3,576.4 761.5,576.6 761.8,576.8 762.0,577.0 762.3,577.2 762.5,577.4 762.8,577.6 763.0,577.8 763.3,578.0 763.5,578.2 763.8,578.4 764.0,578.5 764.2,578.7 764.4,578.9 764.7,579.1 764.9,579.2 765.1,579.4 765.3,579.6 765.6,579.8 765.8,580.0 766.0,580.2 766.2,580.3 766.5,580.5 766.7,580.7 766.9,580.9 767.1,581.1 767.3,581.3 767.6,581.5 767.8,581.6 768.0,581.8 768.2,582.0 768.5,582.2 768.7,582.4 768.9,582.6 769.1,582.8 769.4,583.0 769.6,583.2 769.8,583.4 770.0,583.6 770.2,583.8 770.5,584.1 770.7,584.3 770.9,584.5 771.1,584.7 771.4,584.9 771.6,585.2 771.7,585.4 771.9,585.6 772.1,585.8 772.3,586.0 772.5,586.3 772.7,586.5 772.9,586.7 773.1,587.0 773.3,587.3 773.5,587.5 773.6,587.7 773.8,588.0 774.0,588.3 774.1,588.5 774.3,588.8 774.5,589.1 774.6,589.4 774.8,589.7 774.9,590.0 775.0,590.3 775.2,590.6 775.3,591.0 775.4,591.3 775.5,591.6 775.6,591.9 775.8,592.2 775.9,592.6 776.0,593.0 776.1,593.4 776.2,593.8 776.3,594.1 776.4,594.5 776.5,594.8 776.5,595.2 776.6,595.6 776.7,596.1 776.8,596.5 776.9,597.0 777.0,597.4 777.0,597.9 777.1,598.3 777.2,598.6 777.2,599.0 777.3,599.4 777.3,599.8 777.4,600.2 777.4,600.6 777.5,601.0 777.5,601.4 777.6,601.9 777.7,602.3 777.7,602.8 777.8,603.3 777.8,603.8 777.9,604.3 777.9,604.8 778.0,605.3 778.0,605.8 778.1,606.3 778.2,606.8 778.2,607.3 778.3,607.8 778.3,608.3 778.4,608.8 778.4,609.3 778.5,609.8 778.5,610.3 778.6,610.8 778.7,611.2 778.7,611.7 778.8,612.1 778.8,612.5 778.9,612.9 778.9,613.2 779.0,613.7 779.1,614.1 779.2,614.4 779.3,614.7 779.5,615.0 779.7,614.8 779.9,614.4 780.0,614.0 780.1,613.6 780.1,613.2 780.2,612.8 780.3,612.3 780.4,611.8 780.5,611.3 780.6,610.8 780.6,610.4 780.7,610.1 780.7,609.7 780.8,609.4 780.9,608.9 780.9,608.4 781.0,607.9 781.1,607.4 781.2,606.9 781.3,606.5 781.4,606.0 781.4,605.6 781.5,605.2 781.6,604.8 781.7,604.5 781.8,604.1 781.9,603.8 782.0,603.4 782.1,603.0 782.2,602.6 782.3,602.3 782.4,602.0 782.6,601.6 782.7,601.3 782.8,601.0 783.0,600.7 783.2,600.5 783.3,600.2 783.5,600.0 783.8,599.8 784.0,599.6 784.2,599.4 784.5,599.3 784.8,599.2 785.2,599.1 785.6,599.1 786.0,599.2 786.3,599.2 786.6,599.3 786.9,599.4 787.2,599.6 787.6,599.7 787.8,599.8 788.1,600.0 788.4,600.1 788.7,600.2 788.9,600.4 789.2,600.6 789.5,600.7 789.7,600.9 790.0,601.0 790.2,601.2 790.5,601.4 790.7,601.5 791.0,601.7 791.2,601.9 791.5,602.0 791.7,602.2 792.0,602.4 792.2,602.6 792.5,602.8 792.7,602.9 793.0,603.1 793.2,603.3 793.5,603.5 793.7,603.7 794.0,603.9 794.2,604.1 794.5,604.3 794.7,604.5 795.0,604.6 795.2,604.8 795.5,605.0 795.7,605.2 796.0,605.4 796.2,605.6 796.5,605.8 796.7,606.0 797.0,606.2 797.2,606.4 797.4,606.6 797.6,606.7 797.9,606.9 798.1,607.1 798.3,607.3 798.5,607.4 798.8,607.6 799.0,607.8 799.2,608.0 799.4,608.2 799.6,608.4 799.9,608.5 800.1,608.7 800.3,608.9 800.5,609.1 800.8,609.3 801.0,609.4 801.2,609.6 801.4,609.8 801.7,610.0 801.9,610.2 802.1,610.4 802.3,610.5 802.5,610.7 802.8,610.9 803.0,611.1 803.2,611.3 803.4,611.5 803.7,611.7 803.9,611.8 804.1,612.0 804.3,612.2 804.6,612.4 804.8,612.6 805.0,612.8 805.2,613.0 805.4,613.1 805.7,613.3 805.9,613.5 806.1,613.7 806.3,613.9 806.6,614.1 806.8,614.3 807.0,614.4 807.2,614.6 807.5,614.8 807.7,615.0 807.9,615.2 808.1,615.4 808.3,615.6 808.6,615.8 808.8,615.9 809.0,616.1 809.2,616.3 809.5,616.5 809.7,616.7 809.9,616.9 810.1,617.1 810.3,617.3 810.6,617.4 810.8,617.6 811.0,617.8 811.2,618.0 811.5,618.2 811.7,618.4 811.9,618.6 812.1,618.8 812.4,618.9 812.6,619.1 812.8,619.3 813.0,619.5 813.2,619.7 813.5,619.9 813.7,620.1 813.9,620.3 814.1,620.4 814.4,620.6 814.6,620.8 814.8,621.0 815.0,621.2 815.3,621.4 815.5,621.6 815.7,621.8 815.9,622.0 816.1,622.1 816.4,622.3 816.6,622.5 816.8,622.7 817.0,622.9 817.3,623.1 817.5,623.3 817.7,623.5 817.9,623.6 818.2,623.8 818.4,624.0 818.6,624.2 818.8,624.4 819.0,624.6 819.3,624.8 819.5,624.9 819.7,625.1 819.9,625.3 820.2,625.5 820.4,625.7 820.6,625.9 820.8,626.1 821.1,626.3 821.3,626.4 821.5,626.6 821.7,626.8 821.9,627.0 822.2,627.2 822.4,627.4 822.6,627.6 822.8,627.7 823.1,627.9 823.3,628.1 823.5,628.3 823.7,628.5 824.0,628.7 824.2,628.9 824.4,629.1 824.6,629.2 824.8,629.4 825.1,629.6 825.3,629.8 825.5,630.0 825.7,630.2 826.0,630.3 826.2,630.5 826.4,630.7 826.6,630.9 826.8,631.1 827.1,631.3 827.3,631.5 827.5,631.6 827.7,631.8 828.0,632.0 828.2,632.2 828.4,632.4 828.6,632.6 828.9,632.7 829.1,632.9 829.3,633.1 829.5,633.3 829.7,633.5 830.0,633.7 830.2,633.8 830.4,634.0 830.6,634.2 830.9,634.4 831.1,634.6 831.3,634.8 831.5,634.9 831.8,635.1 832.0,635.3 832.2,635.5 832.4,635.7 832.6,635.8 832.9,636.0 833.1,636.2 833.3,636.4 833.5,636.6 833.8,636.8 834.0,636.9 834.2,637.1 834.4,637.3 834.7,637.5 834.9,637.7 835.1,637.8 835.3,638.0 835.5,638.2 835.8,638.4 836.0,638.6 836.2,638.7 836.4,638.9 836.7,639.1 836.9,639.3 837.1,639.5 837.3,639.6 837.6,639.8 837.8,640.0 838.0,640.2 838.2,640.4 838.4,640.5 838.7,640.7 838.9,640.9 839.1,641.1 839.3,641.2 839.6,641.4 839.8,641.6 840.0,641.8 840.3,642.0 840.5,642.2 840.8,642.4 841.0,642.6 841.3,642.8 841.5,643.0 841.8,643.2 842.0,643.4 842.3,643.6 842.5,643.8 842.8,644.0 843.0,644.1 843.3,644.3 843.5,644.5 843.8,644.7 844.0,644.9 844.3,645.1 844.5,645.3 844.8,645.5 845.0,645.7 845.3,645.9 845.5,646.1 845.8,646.3 846.0,646.5 846.3,646.7 846.5,646.9 846.8,647.1 847.0,647.3 847.3,647.5 847.5,647.7 847.8,647.9 848.0,648.0 848.3,648.2 848.5,648.4 848.8,648.6 849.0,648.8 849.3,649.0 849.5,649.2 849.8,649.4 850.0,649.6 850.3,649.8 850.5,650.0 850.8,650.1 851.0,650.3 851.3,650.5 851.5,650.7 851.8,650.9 852.0,651.1 852.3,651.3 852.5,651.5 852.8,651.7 853.0,651.9 853.3,652.0 853.6,652.2 853.8,652.4 854.1,652.6 854.3,652.8 854.6,653.0 854.8,653.2 855.1,653.4 855.3,653.5 855.6,653.7 855.8,653.9 856.1,654.1 856.3,654.3 856.6,654.5 856.8,654.6 857.1,654.8 857.3,655.0 857.6,655.2 857.8,655.4 858.1,655.6 858.3,655.8 858.6,655.9 858.8,656.1 859.1,656.3 859.3,656.5 859.6,656.7 859.8,656.8 860.1,657.0 860.3,657.2 860.6,657.4 860.8,657.6 861.1,657.8 861.3,657.9 861.6,658.1 861.8,658.3 862.1,658.5 862.3,658.7 862.6,658.8 862.8,659.0 863.1,659.2 863.3,659.4 863.6,659.6 863.8,659.7 864.1,659.9 864.3,660.1 864.6,660.3 864.8,660.4 865.1,660.6 865.3,660.8 865.6,661.0 865.8,661.1 866.1,661.3 866.3,661.5 866.6,661.7 866.8,661.8 867.1,662.0 867.3,662.2 867.6,662.4 867.8,662.5 868.1,662.7 868.3,662.9 868.6,663.1 868.9,663.2 869.1,663.4 869.4,663.6 869.6,663.8 869.9,663.9 870.1,664.1 870.4,664.3 870.6,664.5 870.9,664.6 871.1,664.8 871.4,665.0 871.6,665.1 871.9,665.3 872.1,665.5 872.4,665.6 872.6,665.8 872.9,666.0 873.1,666.2 873.4,666.3 873.6,666.5 873.9,666.7 874.1,666.8 874.4,667.0 874.6,667.2 874.9,667.3 875.1,667.5 875.4,667.7 875.6,667.8 875.9,668.0 876.1,668.2 876.4,668.3 876.6,668.5 876.9,668.7 877.1,668.8 877.4,669.0 877.6,669.2 877.9,669.3 878.1,669.5 878.4,669.7 878.6,669.8 878.9,670.0 879.1,670.2 879.4,670.3 879.6,670.5 879.9,670.6 880.1,670.8 880.4,671.0 880.6,671.1 880.9,671.3 881.1,671.5 881.4,671.6 881.6,671.8 881.9,671.9 882.1,672.1 882.4,672.3 882.6,672.4 882.9,672.6 883.1,672.7 883.4,672.9 883.7,673.1 883.9,673.2 884.2,673.4 884.4,673.5 884.7,673.7 884.9,673.9 885.2,674.0 885.4,674.2 885.7,674.3 885.9,674.5 886.2,674.6 886.4,674.8 886.7,675.0 886.9,675.1 887.2,675.3 887.4,675.4 887.7,675.6 887.9,675.7 888.2,675.9 888.4,676.0 888.7,676.2 888.9,676.4 889.2,676.5 889.4,676.7 889.7,676.8 889.9,677.0 890.2,677.1 890.4,677.3 890.7,677.4 890.9,677.6 891.2,677.7 891.4,677.9 891.7,678.0 891.9,678.2 892.2,678.4 892.4,678.5 892.7,678.7 892.9,678.8 893.2,679.0 893.4,679.1 893.7,679.3 893.9,679.4 894.2,679.6 894.4,679.7 894.7,679.9 894.9,680.0 895.2,680.2 895.5,680.3 895.7,680.5 896.0,680.7 896.3,680.8 896.6,681.0 896.9,681.1 897.1,681.3 897.4,681.5 897.7,681.6 898.0,681.8 898.3,682.0 898.5,682.1 898.8,682.3 899.1,682.5 899.4,682.6 899.6,682.8 899.9,682.9 900.2,683.1 900.5,683.3 900.8,683.4 901.0,683.6 901.3,683.7 901.6,683.9 901.9,684.1 902.2,684.2 902.4,684.4 902.7,684.5 903.0,684.7 903.3,684.9 903.6,685.0 903.8,685.2 904.1,685.3 904.4,685.5 904.7,685.6 904.9,685.8 905.2,686.0 905.5,686.1 905.8,686.3 906.1,686.4 906.3,686.6 906.6,686.7 906.9,686.9 907.2,687.0 907.5,687.2 907.7,687.3 908.0,687.5 908.3,687.7 908.6,687.8 908.8,688.0 909.1,688.1 909.4,688.3 909.7,688.4 910.0,688.6 910.2,688.7 910.5,688.9 910.8,689.0 911.1,689.2 911.4,689.3 911.6,689.5 911.9,689.6 912.2,689.8 912.5,689.9 912.7,690.1 913.0,690.2 913.3,690.4 913.6,690.5 913.9,690.7 914.1,690.8 914.4,691.0 914.7,691.1 915.0,691.3 915.3,691.4 915.5,691.6 915.8,691.7 916.1,691.9 916.4,692.0 916.7,692.2 916.9,692.3 917.2,692.4 917.5,692.6 917.8,692.7 918.0,692.9 918.3,693.0 918.6,693.2 918.9,693.3 919.2,693.5 919.4,693.6 919.7,693.7 920.0,693.9 920.3,694.0 920.6,694.2 920.8,694.3 921.1,694.5 921.4,694.6 921.7,694.7 921.9,694.9 922.2,695.0 922.5,695.2 922.8,695.3 923.1,695.5 923.3,695.6 923.6,695.7 923.9,695.9 924.2,696.0 924.5,696.2 924.7,696.3 925.0,696.4 925.3,696.6 925.6,696.7 925.8,696.8 926.1,697.0 926.4,697.1 926.7,697.3 927.0,697.4 927.2,697.5 927.5,697.7 927.8,697.8 928.1,697.9 928.4,698.1 928.6,698.2 928.9,698.4 929.2,698.5 929.5,698.6 929.8,698.8 930.0,698.9 930.3,699.0 930.6,699.2 930.9,699.3 931.1,699.4 931.4,699.6 931.7,699.7 932.0,699.8 932.3,700.0 932.5,700.1 932.8,700.2 933.1,700.4 933.4,700.5 933.7,700.6 933.9,700.8 934.2,700.9 934.5,701.0 934.8,701.2 935.0,701.3 935.3,701.4 935.6,701.6 935.9,701.7 936.2,701.8 936.4,702.0 936.7,702.1 937.0,702.2 937.3,702.3 937.6,702.5 937.8,702.6 938.1,702.7 938.4,702.9 938.7,703.0 938.9,703.1 939.2,703.2 939.5,703.4 939.8,703.5 940.1,703.6 940.3,703.8 940.6,703.9 940.9,704.0 941.2,704.1 941.5,704.3 941.7,704.4 942.0,704.5 942.3,704.6 942.6,704.8 942.9,704.9 943.1,705.0 943.4,705.1 943.7,705.3 944.0,705.4 944.2,705.5 944.5,705.6 944.8,705.8 945.1,705.9 945.4,706.0 945.6,706.1 945.9,706.3 946.2,706.4 946.5,706.5 946.8,706.6 947.0,706.7 947.3,706.9 947.6,707.0 947.9,707.1 948.1,707.2 948.4,707.4 948.7,707.5 949.0,707.6 949.3,707.8 949.7,707.9 950.0,708.0 950.3,708.1 950.6,708.3 950.9,708.4 951.2,708.5 951.5,708.7 951.8,708.8 952.1,708.9 952.4,709.1 952.7,709.2 953.0,709.3 953.3,709.5 953.6,709.6 953.9,709.7 954.2,709.8 954.6,710.0 954.9,710.1 955.2,710.2 955.5,710.4 955.8,710.5 956.1,710.6 956.4,710.7 956.7,710.9 957.0,711.0 957.3,711.1 957.6,711.2 957.9,711.4 958.2,711.5 958.5,711.6 958.8,711.8 959.2,711.9 959.5,712.0 959.8,712.1 960.1,712.3 960.4,712.4 960.7,712.5 961.0,712.6 961.3,712.7 961.6,712.9 961.9,713.0 962.2,713.1 962.5,713.2 962.8,713.4 963.1,713.5 963.4,713.6 963.8,713.7 964.1,713.9 964.4,714.0 964.7,714.1 965.0,714.2 965.3,714.3 965.6,714.5 965.9,714.6 966.2,714.7 966.5,714.8 966.8,714.9 967.1,715.1 967.4,715.2 967.7,715.3 968.0,715.4 968.4,715.5 968.7,715.7 969.0,715.8 969.3,715.9 969.6,716.0 969.9,716.1 970.2,716.2 970.5,716.4 970.8,716.5 971.1,716.6 971.4,716.7 971.7,716.8 972.0,716.9 972.3,717.1 972.6,717.2 973.0,717.3 973.3,717.4 973.6,717.5 973.9,717.6 974.2,717.8 974.5,717.9 974.8,718.0 975.1,718.1 975.4,718.2 975.7,718.3 976.0,718.4 976.3,718.6 976.6,718.7 976.9,718.8 977.2,718.9 977.6,719.0 977.9,719.1 978.2,719.2 978.5,719.3 978.8,719.5 979.1,719.6 979.4,719.7 979.7,719.8 980.0,719.9 980.3,720.0 980.6,720.1 980.9,720.2 981.2,720.3 981.5,720.4 981.8,720.6 982.1,720.7 982.5,720.8 982.8,720.9 983.1,721.0 983.4,721.1 983.7,721.2 984.0,721.3 984.3,721.4 984.6,721.5 984.9,721.6 985.2,721.8 985.5,721.9 985.8,722.0 986.1,722.1 986.4,722.2 986.7,722.3 987.1,722.4 987.4,722.5 987.7,722.6 988.0,722.7 988.3,722.8 988.6,722.9 988.9,723.0 989.2,723.1 989.5,723.2 989.8,723.3 990.1,723.4 990.4,723.6 990.7,723.7 991.0,723.8 991.3,723.9 991.7,724.0 992.0,724.1 992.3,724.2 992.6,724.3 992.9,724.4 993.2,724.5 993.5,724.6 993.8,724.7 994.1,724.8 994.4,724.9 994.7,725.0 995.0,725.1 995.3,725.2 995.6,725.3 995.9,725.4 996.3,725.5 996.6,725.6 996.9,725.7 997.2,725.8 997.5,725.9 997.8,726.0 998.1,726.1 998.4,726.2 998.7,726.3 999.0,726.4 999.3,726.5 999.6,726.6 999.9,726.7 1000.2,726.8 1000.5,726.9 1000.9,727.0 1001.2,727.1 1001.5,727.2 1001.8,727.3 1002.1,727.4 1002.4,727.5 1002.7,727.6 1003.0,727.7 1003.3,727.8 1003.6,727.9 1003.9,728.0 1004.0,728.0" fill="none" stroke="#20209e" stroke-width="2.70" stroke-linejoin="round" stroke-linecap="round" clip-path="url(#cBR)"/>
<text transform="translate(30,172.2) rotate(-90)" text-anchor="middle">Magnitude in dB</text>
<text transform="translate(48.2,588.5) rotate(-90)" text-anchor="middle">Phase in rad</text>
<text x="293.6" y="812" text-anchor="middle" style="font-size:32.5px">Frequency in kHz</text>
<text x="807.4" y="812" text-anchor="middle" style="font-size:32.5px">Frequency in kHz</text>
</svg>
</body></html>
